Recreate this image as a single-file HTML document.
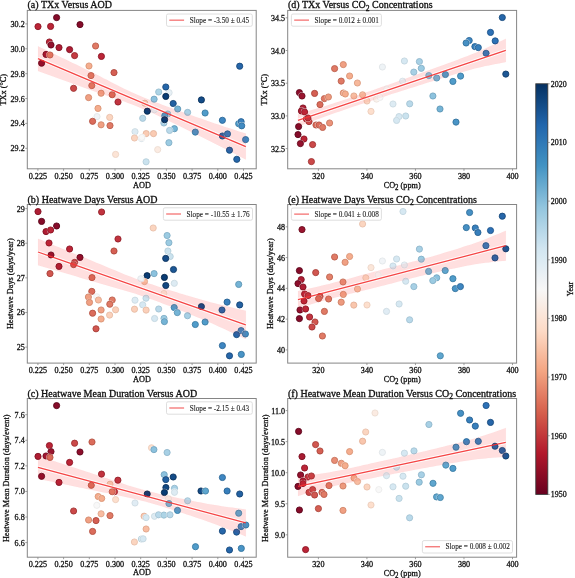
<!DOCTYPE html><html><head><meta charset="utf-8"><style>html,body{margin:0;padding:0;background:#fff;}svg{display:block;} text{filter:grayscale(1);}</style></head><body><svg width="575" height="578" viewBox="0 0 575 578" font-family="Liberation Serif, serif">
<rect width="575" height="578" fill="#fff"/>
<polygon points="38.0,46.2 41.5,47.9 44.9,49.5 48.4,51.2 51.9,52.9 55.3,54.6 58.8,56.2 62.2,57.9 65.7,59.6 69.2,61.3 72.6,63.0 76.1,64.6 79.6,66.3 83.0,68.0 86.5,69.7 90.0,71.4 93.4,73.1 96.9,74.8 100.3,76.6 103.8,78.4 107.3,80.1 110.7,81.9 114.2,83.7 117.7,85.5 121.1,87.2 124.6,88.9 128.0,90.6 131.5,92.2 135.0,93.8 138.4,95.3 141.9,96.8 145.4,98.2 148.8,99.6 152.3,101.0 155.8,102.3 159.2,103.6 162.7,104.9 166.1,106.2 169.6,107.4 173.1,108.7 176.5,109.9 180.0,111.2 183.5,112.4 186.9,113.7 190.4,114.9 193.8,116.2 197.3,117.4 200.8,118.6 204.2,119.8 207.7,121.0 211.2,122.2 214.6,123.4 218.1,124.6 221.6,125.7 225.0,126.9 228.5,128.0 231.9,129.1 235.4,130.3 238.9,131.4 242.3,132.5 245.8,133.6 245.8,159.6 242.3,157.8 238.9,155.9 235.4,154.1 231.9,152.3 228.5,150.5 225.0,148.7 221.6,146.9 218.1,145.2 214.6,143.4 211.2,141.7 207.7,139.9 204.2,138.2 200.8,136.5 197.3,134.7 193.8,133.0 190.4,131.4 186.9,129.7 183.5,128.0 180.0,126.3 176.5,124.6 173.1,122.9 169.6,121.2 166.1,119.5 162.7,117.9 159.2,116.2 155.8,114.6 152.3,113.0 148.8,111.5 145.4,109.9 141.9,108.4 138.4,106.9 135.0,105.5 131.5,104.2 128.0,102.9 124.6,101.6 121.1,100.4 117.7,99.2 114.2,98.0 110.7,96.9 107.3,95.7 103.8,94.6 100.3,93.4 96.9,92.2 93.4,91.0 90.0,89.8 86.5,88.6 83.0,87.3 79.6,86.1 76.1,84.8 72.6,83.6 69.2,82.3 65.7,81.1 62.2,79.8 58.8,78.6 55.3,77.3 51.9,76.0 48.4,74.8 44.9,73.5 41.5,72.3 38.0,71.0" fill="#ff2020" fill-opacity="0.075"/>
<circle cx="56.6" cy="17.6" r="3.70" fill="#fff" fill-opacity="0.85"/>
<circle cx="56.6" cy="17.6" r="3.10" fill="#860c2a" stroke="#570318" stroke-width="0.85"/>
<circle cx="38" cy="26.6" r="3.70" fill="#fff" fill-opacity="0.85"/>
<circle cx="38" cy="26.6" r="3.10" fill="#bb2537" stroke="#891221" stroke-width="0.85"/>
<circle cx="50.6" cy="26.4" r="3.70" fill="#fff" fill-opacity="0.85"/>
<circle cx="50.6" cy="26.4" r="3.10" fill="#bb2537" stroke="#891221" stroke-width="0.85"/>
<circle cx="80" cy="24.6" r="3.70" fill="#fff" fill-opacity="0.85"/>
<circle cx="80" cy="24.6" r="3.10" fill="#860c2a" stroke="#570318" stroke-width="0.85"/>
<circle cx="49.4" cy="42" r="3.70" fill="#fff" fill-opacity="0.85"/>
<circle cx="49.4" cy="42" r="3.10" fill="#bb2537" stroke="#891221" stroke-width="0.85"/>
<circle cx="51" cy="45" r="3.70" fill="#fff" fill-opacity="0.85"/>
<circle cx="51" cy="45" r="3.10" fill="#94122e" stroke="#63071b" stroke-width="0.85"/>
<circle cx="59" cy="47.6" r="3.70" fill="#fff" fill-opacity="0.85"/>
<circle cx="59" cy="47.6" r="3.10" fill="#ae1e34" stroke="#7c0e1f" stroke-width="0.85"/>
<circle cx="69.6" cy="49.6" r="3.70" fill="#fff" fill-opacity="0.85"/>
<circle cx="69.6" cy="49.6" r="3.10" fill="#ae1e34" stroke="#7c0e1f" stroke-width="0.85"/>
<circle cx="74.6" cy="55.6" r="3.70" fill="#fff" fill-opacity="0.85"/>
<circle cx="74.6" cy="55.6" r="3.10" fill="#c53b42" stroke="#952429" stroke-width="0.85"/>
<circle cx="95.6" cy="46" r="3.70" fill="#fff" fill-opacity="0.85"/>
<circle cx="95.6" cy="46" r="3.10" fill="#e07a65" stroke="#b95c4a" stroke-width="0.85"/>
<circle cx="101.4" cy="56.4" r="3.70" fill="#fff" fill-opacity="0.85"/>
<circle cx="101.4" cy="56.4" r="3.10" fill="#bb2537" stroke="#891221" stroke-width="0.85"/>
<circle cx="46" cy="54.4" r="3.70" fill="#fff" fill-opacity="0.85"/>
<circle cx="46" cy="54.4" r="3.10" fill="#a11830" stroke="#700a1c" stroke-width="0.85"/>
<circle cx="50" cy="55" r="3.70" fill="#fff" fill-opacity="0.85"/>
<circle cx="50" cy="55" r="3.10" fill="#e07a65" stroke="#b95c4a" stroke-width="0.85"/>
<circle cx="41.6" cy="63.2" r="3.70" fill="#fff" fill-opacity="0.85"/>
<circle cx="41.6" cy="63.2" r="3.10" fill="#8d0e2c" stroke="#5e051a" stroke-width="0.85"/>
<circle cx="89" cy="66" r="3.70" fill="#fff" fill-opacity="0.85"/>
<circle cx="89" cy="66" r="3.10" fill="#f5ad8e" stroke="#d89273" stroke-width="0.85"/>
<circle cx="91" cy="75.6" r="3.70" fill="#fff" fill-opacity="0.85"/>
<circle cx="91" cy="75.6" r="3.10" fill="#e07a65" stroke="#b95c4a" stroke-width="0.85"/>
<circle cx="114" cy="72.6" r="3.70" fill="#fff" fill-opacity="0.85"/>
<circle cx="114" cy="72.6" r="3.10" fill="#d55f53" stroke="#a94339" stroke-width="0.85"/>
<circle cx="73.6" cy="88.3" r="3.70" fill="#fff" fill-opacity="0.85"/>
<circle cx="73.6" cy="88.3" r="3.10" fill="#cb4949" stroke="#9d3030" stroke-width="0.85"/>
<circle cx="91.8" cy="85.6" r="3.70" fill="#fff" fill-opacity="0.85"/>
<circle cx="91.8" cy="85.6" r="3.10" fill="#e07a65" stroke="#b95c4a" stroke-width="0.85"/>
<circle cx="88.6" cy="97.6" r="3.70" fill="#fff" fill-opacity="0.85"/>
<circle cx="88.6" cy="97.6" r="3.10" fill="#f0a083" stroke="#d08468" stroke-width="0.85"/>
<circle cx="101.1" cy="93.2" r="3.70" fill="#fff" fill-opacity="0.85"/>
<circle cx="101.1" cy="93.2" r="3.10" fill="#f0a083" stroke="#d08468" stroke-width="0.85"/>
<circle cx="112.2" cy="94.7" r="3.70" fill="#fff" fill-opacity="0.85"/>
<circle cx="112.2" cy="94.7" r="3.10" fill="#db6c5b" stroke="#b24f40" stroke-width="0.85"/>
<circle cx="118" cy="102" r="3.70" fill="#fff" fill-opacity="0.85"/>
<circle cx="118" cy="102" r="3.10" fill="#c1333f" stroke="#911d27" stroke-width="0.85"/>
<circle cx="98" cy="108.4" r="3.70" fill="#fff" fill-opacity="0.85"/>
<circle cx="98" cy="108.4" r="3.10" fill="#f5ad8e" stroke="#d89273" stroke-width="0.85"/>
<circle cx="97" cy="116.6" r="3.70" fill="#fff" fill-opacity="0.85"/>
<circle cx="97" cy="116.6" r="3.10" fill="#f1f4f7" stroke="#e2e6e8" stroke-width="0.85"/>
<circle cx="109.7" cy="117.4" r="3.70" fill="#fff" fill-opacity="0.85"/>
<circle cx="109.7" cy="117.4" r="3.10" fill="#fbd5c0" stroke="#e7bfaa" stroke-width="0.85"/>
<circle cx="92.6" cy="121.3" r="3.70" fill="#fff" fill-opacity="0.85"/>
<circle cx="92.6" cy="121.3" r="3.10" fill="#db6c5b" stroke="#b24f40" stroke-width="0.85"/>
<circle cx="101.1" cy="124.8" r="3.70" fill="#fff" fill-opacity="0.85"/>
<circle cx="101.1" cy="124.8" r="3.10" fill="#f0a083" stroke="#d08468" stroke-width="0.85"/>
<circle cx="110" cy="125.6" r="3.70" fill="#fff" fill-opacity="0.85"/>
<circle cx="110" cy="125.6" r="3.10" fill="#e07a65" stroke="#b95c4a" stroke-width="0.85"/>
<circle cx="135" cy="131.7" r="3.70" fill="#fff" fill-opacity="0.85"/>
<circle cx="135" cy="131.7" r="3.10" fill="#ddebf3" stroke="#cad9e0" stroke-width="0.85"/>
<circle cx="134.5" cy="138" r="3.70" fill="#fff" fill-opacity="0.85"/>
<circle cx="134.5" cy="138" r="3.10" fill="#fbd5c0" stroke="#e7bfaa" stroke-width="0.85"/>
<circle cx="141.5" cy="138.5" r="3.70" fill="#fff" fill-opacity="0.85"/>
<circle cx="141.5" cy="138.5" r="3.10" fill="#e7f0f5" stroke="#d6dfe5" stroke-width="0.85"/>
<circle cx="115.6" cy="154.4" r="3.70" fill="#fff" fill-opacity="0.85"/>
<circle cx="115.6" cy="154.4" r="3.10" fill="#fce4d6" stroke="#ebd2c3" stroke-width="0.85"/>
<circle cx="144.8" cy="103.2" r="3.70" fill="#fff" fill-opacity="0.85"/>
<circle cx="144.8" cy="103.2" r="3.10" fill="#facbb3" stroke="#e3b49c" stroke-width="0.85"/>
<circle cx="142.7" cy="118.3" r="3.70" fill="#fff" fill-opacity="0.85"/>
<circle cx="142.7" cy="118.3" r="3.10" fill="#b9d9ea" stroke="#a1c1d1" stroke-width="0.85"/>
<circle cx="146.2" cy="133.6" r="3.70" fill="#fff" fill-opacity="0.85"/>
<circle cx="146.2" cy="133.6" r="3.10" fill="#facbb3" stroke="#e3b49c" stroke-width="0.85"/>
<circle cx="153.5" cy="133.6" r="3.70" fill="#fff" fill-opacity="0.85"/>
<circle cx="153.5" cy="133.6" r="3.10" fill="#facbb3" stroke="#e3b49c" stroke-width="0.85"/>
<circle cx="154.4" cy="109.7" r="3.70" fill="#fff" fill-opacity="0.85"/>
<circle cx="154.4" cy="109.7" r="3.10" fill="#e7f0f5" stroke="#d6dfe5" stroke-width="0.85"/>
<circle cx="154.1" cy="99.2" r="3.70" fill="#fff" fill-opacity="0.85"/>
<circle cx="154.1" cy="99.2" r="3.10" fill="#8cc2de" stroke="#71a3be" stroke-width="0.85"/>
<circle cx="158.7" cy="92" r="3.70" fill="#fff" fill-opacity="0.85"/>
<circle cx="158.7" cy="92" r="3.10" fill="#add4e6" stroke="#94bacc" stroke-width="0.85"/>
<circle cx="169.1" cy="92.7" r="3.70" fill="#fff" fill-opacity="0.85"/>
<circle cx="169.1" cy="92.7" r="3.10" fill="#e7f0f5" stroke="#d6dfe5" stroke-width="0.85"/>
<circle cx="165.8" cy="87" r="3.70" fill="#fff" fill-opacity="0.85"/>
<circle cx="165.8" cy="87" r="3.10" fill="#2666a9" stroke="#15477a" stroke-width="0.85"/>
<circle cx="165.8" cy="96.4" r="3.70" fill="#fff" fill-opacity="0.85"/>
<circle cx="165.8" cy="96.4" r="3.10" fill="#0a3c74" stroke="#032347" stroke-width="0.85"/>
<circle cx="173.2" cy="103.5" r="3.70" fill="#fff" fill-opacity="0.85"/>
<circle cx="173.2" cy="103.5" r="3.10" fill="#2361a2" stroke="#134273" stroke-width="0.85"/>
<circle cx="177.7" cy="109" r="3.70" fill="#fff" fill-opacity="0.85"/>
<circle cx="177.7" cy="109" r="3.10" fill="#75b4d6" stroke="#5b93b2" stroke-width="0.85"/>
<circle cx="187.6" cy="112.4" r="3.70" fill="#fff" fill-opacity="0.85"/>
<circle cx="187.6" cy="112.4" r="3.10" fill="#a7d0e5" stroke="#8eb5ca" stroke-width="0.85"/>
<circle cx="167.8" cy="114" r="3.70" fill="#fff" fill-opacity="0.85"/>
<circle cx="167.8" cy="114" r="3.10" fill="#a7d0e5" stroke="#8eb5ca" stroke-width="0.85"/>
<circle cx="164.8" cy="115.7" r="3.70" fill="#fff" fill-opacity="0.85"/>
<circle cx="164.8" cy="115.7" r="3.10" fill="#509cca" stroke="#377aa2" stroke-width="0.85"/>
<circle cx="163.9" cy="123" r="3.70" fill="#fff" fill-opacity="0.85"/>
<circle cx="163.9" cy="123" r="3.10" fill="#a7d0e5" stroke="#8eb5ca" stroke-width="0.85"/>
<circle cx="164.6" cy="119.7" r="3.70" fill="#fff" fill-opacity="0.85"/>
<circle cx="164.6" cy="119.7" r="3.10" fill="#0a3c74" stroke="#032347" stroke-width="0.85"/>
<circle cx="147.3" cy="111.2" r="3.70" fill="#fff" fill-opacity="0.85"/>
<circle cx="147.3" cy="111.2" r="3.10" fill="#0a3c74" stroke="#032347" stroke-width="0.85"/>
<circle cx="174.4" cy="128.7" r="3.70" fill="#fff" fill-opacity="0.85"/>
<circle cx="174.4" cy="128.7" r="3.10" fill="#75b4d6" stroke="#5b93b2" stroke-width="0.85"/>
<circle cx="169.6" cy="130.4" r="3.70" fill="#fff" fill-opacity="0.85"/>
<circle cx="169.6" cy="130.4" r="3.10" fill="#b9d9ea" stroke="#a1c1d1" stroke-width="0.85"/>
<circle cx="157.7" cy="149.6" r="3.70" fill="#fff" fill-opacity="0.85"/>
<circle cx="157.7" cy="149.6" r="3.10" fill="#fbebe2" stroke="#ebdbd1" stroke-width="0.85"/>
<circle cx="146.1" cy="161.8" r="3.70" fill="#fff" fill-opacity="0.85"/>
<circle cx="146.1" cy="161.8" r="3.10" fill="#cae2ee" stroke="#b4cdd9" stroke-width="0.85"/>
<circle cx="168.9" cy="142.7" r="3.70" fill="#fff" fill-opacity="0.85"/>
<circle cx="168.9" cy="142.7" r="3.10" fill="#9bcbe2" stroke="#81aec5" stroke-width="0.85"/>
<circle cx="141.8" cy="137.4" r="3.70" fill="#fff" fill-opacity="0.85"/>
<circle cx="141.8" cy="137.4" r="3.10" fill="#f8f8f8" stroke="#ebebeb" stroke-width="0.85"/>
<circle cx="195.3" cy="132.1" r="3.70" fill="#fff" fill-opacity="0.85"/>
<circle cx="195.3" cy="132.1" r="3.10" fill="#4994c6" stroke="#31719c" stroke-width="0.85"/>
<circle cx="201.4" cy="99.9" r="3.70" fill="#fff" fill-opacity="0.85"/>
<circle cx="201.4" cy="99.9" r="3.10" fill="#144c88" stroke="#09305a" stroke-width="0.85"/>
<circle cx="205.1" cy="113" r="3.70" fill="#fff" fill-opacity="0.85"/>
<circle cx="205.1" cy="113" r="3.10" fill="#509cca" stroke="#377aa2" stroke-width="0.85"/>
<circle cx="222.4" cy="120.3" r="3.70" fill="#fff" fill-opacity="0.85"/>
<circle cx="222.4" cy="120.3" r="3.10" fill="#3e86c1" stroke="#286495" stroke-width="0.85"/>
<circle cx="222.4" cy="136" r="3.70" fill="#fff" fill-opacity="0.85"/>
<circle cx="222.4" cy="136" r="3.10" fill="#2666a9" stroke="#15477a" stroke-width="0.85"/>
<circle cx="227.5" cy="133.9" r="3.70" fill="#fff" fill-opacity="0.85"/>
<circle cx="227.5" cy="133.9" r="3.10" fill="#347aba" stroke="#1f588d" stroke-width="0.85"/>
<circle cx="238.7" cy="123.7" r="3.70" fill="#fff" fill-opacity="0.85"/>
<circle cx="238.7" cy="123.7" r="3.10" fill="#509cca" stroke="#377aa2" stroke-width="0.85"/>
<circle cx="241.1" cy="121.7" r="3.70" fill="#fff" fill-opacity="0.85"/>
<circle cx="241.1" cy="121.7" r="3.10" fill="#3b82be" stroke="#256092" stroke-width="0.85"/>
<circle cx="241.7" cy="125.8" r="3.70" fill="#fff" fill-opacity="0.85"/>
<circle cx="241.7" cy="125.8" r="3.10" fill="#418bc2" stroke="#2b6997" stroke-width="0.85"/>
<circle cx="245.6" cy="139.6" r="3.70" fill="#fff" fill-opacity="0.85"/>
<circle cx="245.6" cy="139.6" r="3.10" fill="#3e86c1" stroke="#286495" stroke-width="0.85"/>
<circle cx="229.5" cy="150.2" r="3.70" fill="#fff" fill-opacity="0.85"/>
<circle cx="229.5" cy="150.2" r="3.10" fill="#2666a9" stroke="#15477a" stroke-width="0.85"/>
<circle cx="236.8" cy="159.3" r="3.70" fill="#fff" fill-opacity="0.85"/>
<circle cx="236.8" cy="159.3" r="3.10" fill="#2666a9" stroke="#15477a" stroke-width="0.85"/>
<circle cx="239.7" cy="66.2" r="3.70" fill="#fff" fill-opacity="0.85"/>
<circle cx="239.7" cy="66.2" r="3.10" fill="#2666a9" stroke="#15477a" stroke-width="0.85"/>
<polygon points="38.0,46.2 41.5,47.9 44.9,49.5 48.4,51.2 51.9,52.9 55.3,54.6 58.8,56.2 62.2,57.9 65.7,59.6 69.2,61.3 72.6,63.0 76.1,64.6 79.6,66.3 83.0,68.0 86.5,69.7 90.0,71.4 93.4,73.1 96.9,74.8 100.3,76.6 103.8,78.4 107.3,80.1 110.7,81.9 114.2,83.7 117.7,85.5 121.1,87.2 124.6,88.9 128.0,90.6 131.5,92.2 135.0,93.8 138.4,95.3 141.9,96.8 145.4,98.2 148.8,99.6 152.3,101.0 155.8,102.3 159.2,103.6 162.7,104.9 166.1,106.2 169.6,107.4 173.1,108.7 176.5,109.9 180.0,111.2 183.5,112.4 186.9,113.7 190.4,114.9 193.8,116.2 197.3,117.4 200.8,118.6 204.2,119.8 207.7,121.0 211.2,122.2 214.6,123.4 218.1,124.6 221.6,125.7 225.0,126.9 228.5,128.0 231.9,129.1 235.4,130.3 238.9,131.4 242.3,132.5 245.8,133.6 245.8,159.6 242.3,157.8 238.9,155.9 235.4,154.1 231.9,152.3 228.5,150.5 225.0,148.7 221.6,146.9 218.1,145.2 214.6,143.4 211.2,141.7 207.7,139.9 204.2,138.2 200.8,136.5 197.3,134.7 193.8,133.0 190.4,131.4 186.9,129.7 183.5,128.0 180.0,126.3 176.5,124.6 173.1,122.9 169.6,121.2 166.1,119.5 162.7,117.9 159.2,116.2 155.8,114.6 152.3,113.0 148.8,111.5 145.4,109.9 141.9,108.4 138.4,106.9 135.0,105.5 131.5,104.2 128.0,102.9 124.6,101.6 121.1,100.4 117.7,99.2 114.2,98.0 110.7,96.9 107.3,95.7 103.8,94.6 100.3,93.4 96.9,92.2 93.4,91.0 90.0,89.8 86.5,88.6 83.0,87.3 79.6,86.1 76.1,84.8 72.6,83.6 69.2,82.3 65.7,81.1 62.2,79.8 58.8,78.6 55.3,77.3 51.9,76.0 48.4,74.8 44.9,73.5 41.5,72.3 38.0,71.0" fill="#ff2020" fill-opacity="0.07" stroke="#ff2020" stroke-opacity="0.04" stroke-width="0.6"/>
<mask id="m144" maskUnits="userSpaceOnUse" x="0" y="0" width="575" height="578"><rect width="575" height="578" fill="#fff"/><circle cx="56.6" cy="17.6" r="3.55" fill="#000"/><circle cx="38" cy="26.6" r="3.55" fill="#000"/><circle cx="50.6" cy="26.4" r="3.55" fill="#000"/><circle cx="80" cy="24.6" r="3.55" fill="#000"/><circle cx="49.4" cy="42" r="3.55" fill="#000"/><circle cx="51" cy="45" r="3.55" fill="#000"/><circle cx="59" cy="47.6" r="3.55" fill="#000"/><circle cx="69.6" cy="49.6" r="3.55" fill="#000"/><circle cx="74.6" cy="55.6" r="3.55" fill="#000"/><circle cx="95.6" cy="46" r="3.55" fill="#000"/><circle cx="101.4" cy="56.4" r="3.55" fill="#000"/><circle cx="46" cy="54.4" r="3.55" fill="#000"/><circle cx="50" cy="55" r="3.55" fill="#000"/><circle cx="41.6" cy="63.2" r="3.55" fill="#000"/><circle cx="89" cy="66" r="3.55" fill="#000"/><circle cx="91" cy="75.6" r="3.55" fill="#000"/><circle cx="114" cy="72.6" r="3.55" fill="#000"/><circle cx="73.6" cy="88.3" r="3.55" fill="#000"/><circle cx="91.8" cy="85.6" r="3.55" fill="#000"/><circle cx="88.6" cy="97.6" r="3.55" fill="#000"/><circle cx="101.1" cy="93.2" r="3.55" fill="#000"/><circle cx="112.2" cy="94.7" r="3.55" fill="#000"/><circle cx="118" cy="102" r="3.55" fill="#000"/><circle cx="98" cy="108.4" r="3.55" fill="#000"/><circle cx="92.6" cy="121.3" r="3.55" fill="#000"/><circle cx="101.1" cy="124.8" r="3.55" fill="#000"/><circle cx="110" cy="125.6" r="3.55" fill="#000"/><circle cx="154.1" cy="99.2" r="3.55" fill="#000"/><circle cx="158.7" cy="92" r="3.55" fill="#000"/><circle cx="165.8" cy="87" r="3.55" fill="#000"/><circle cx="165.8" cy="96.4" r="3.55" fill="#000"/><circle cx="173.2" cy="103.5" r="3.55" fill="#000"/><circle cx="177.7" cy="109" r="3.55" fill="#000"/><circle cx="187.6" cy="112.4" r="3.55" fill="#000"/><circle cx="167.8" cy="114" r="3.55" fill="#000"/><circle cx="164.8" cy="115.7" r="3.55" fill="#000"/><circle cx="163.9" cy="123" r="3.55" fill="#000"/><circle cx="164.6" cy="119.7" r="3.55" fill="#000"/><circle cx="147.3" cy="111.2" r="3.55" fill="#000"/><circle cx="174.4" cy="128.7" r="3.55" fill="#000"/><circle cx="168.9" cy="142.7" r="3.55" fill="#000"/><circle cx="195.3" cy="132.1" r="3.55" fill="#000"/><circle cx="201.4" cy="99.9" r="3.55" fill="#000"/><circle cx="205.1" cy="113" r="3.55" fill="#000"/><circle cx="222.4" cy="120.3" r="3.55" fill="#000"/><circle cx="222.4" cy="136" r="3.55" fill="#000"/><circle cx="227.5" cy="133.9" r="3.55" fill="#000"/><circle cx="238.7" cy="123.7" r="3.55" fill="#000"/><circle cx="241.1" cy="121.7" r="3.55" fill="#000"/><circle cx="241.7" cy="125.8" r="3.55" fill="#000"/><circle cx="245.6" cy="139.6" r="3.55" fill="#000"/><circle cx="229.5" cy="150.2" r="3.55" fill="#000"/><circle cx="236.8" cy="159.3" r="3.55" fill="#000"/><circle cx="239.7" cy="66.2" r="3.55" fill="#000"/></mask>
<line x1="38" y1="58.6" x2="245.8" y2="146.6" stroke="#fff" stroke-width="3.3" stroke-opacity="0.9" mask="url(#m144)"/>
<line x1="38" y1="58.6" x2="245.8" y2="146.6" stroke="#f43333" stroke-width="1.25" stroke-opacity="0.92"/>
<rect x="27.3" y="10.4" width="228.90" height="158.40" fill="none" stroke="#858585" stroke-width="1"/>
<line x1="37.90" y1="168.8" x2="37.90" y2="170.8" stroke="#858585" stroke-width="0.8"/>
<g transform="translate(37.90,179.00) scale(0.945,1)"><text x="0" y="0" font-size="8.6" text-anchor="middle" fill="#111" stroke="#111" stroke-width="0.3">0.225</text></g>
<line x1="63.60" y1="168.8" x2="63.60" y2="170.8" stroke="#858585" stroke-width="0.8"/>
<g transform="translate(63.60,179.00) scale(0.945,1)"><text x="0" y="0" font-size="8.6" text-anchor="middle" fill="#111" stroke="#111" stroke-width="0.3">0.250</text></g>
<line x1="89.30" y1="168.8" x2="89.30" y2="170.8" stroke="#858585" stroke-width="0.8"/>
<g transform="translate(89.30,179.00) scale(0.945,1)"><text x="0" y="0" font-size="8.6" text-anchor="middle" fill="#111" stroke="#111" stroke-width="0.3">0.275</text></g>
<line x1="115.00" y1="168.8" x2="115.00" y2="170.8" stroke="#858585" stroke-width="0.8"/>
<g transform="translate(115.00,179.00) scale(0.945,1)"><text x="0" y="0" font-size="8.6" text-anchor="middle" fill="#111" stroke="#111" stroke-width="0.3">0.300</text></g>
<line x1="140.70" y1="168.8" x2="140.70" y2="170.8" stroke="#858585" stroke-width="0.8"/>
<g transform="translate(140.70,179.00) scale(0.945,1)"><text x="0" y="0" font-size="8.6" text-anchor="middle" fill="#111" stroke="#111" stroke-width="0.3">0.325</text></g>
<line x1="166.40" y1="168.8" x2="166.40" y2="170.8" stroke="#858585" stroke-width="0.8"/>
<g transform="translate(166.40,179.00) scale(0.945,1)"><text x="0" y="0" font-size="8.6" text-anchor="middle" fill="#111" stroke="#111" stroke-width="0.3">0.350</text></g>
<line x1="192.10" y1="168.8" x2="192.10" y2="170.8" stroke="#858585" stroke-width="0.8"/>
<g transform="translate(192.10,179.00) scale(0.945,1)"><text x="0" y="0" font-size="8.6" text-anchor="middle" fill="#111" stroke="#111" stroke-width="0.3">0.375</text></g>
<line x1="217.80" y1="168.8" x2="217.80" y2="170.8" stroke="#858585" stroke-width="0.8"/>
<g transform="translate(217.80,179.00) scale(0.945,1)"><text x="0" y="0" font-size="8.6" text-anchor="middle" fill="#111" stroke="#111" stroke-width="0.3">0.400</text></g>
<line x1="243.50" y1="168.8" x2="243.50" y2="170.8" stroke="#858585" stroke-width="0.8"/>
<g transform="translate(243.50,179.00) scale(0.945,1)"><text x="0" y="0" font-size="8.6" text-anchor="middle" fill="#111" stroke="#111" stroke-width="0.3">0.425</text></g>
<line x1="25.3" y1="23.90" x2="27.3" y2="23.90" stroke="#858585" stroke-width="0.8"/>
<g transform="translate(24.70,26.90) scale(0.94,1)"><text x="0" y="0" font-size="8.6" text-anchor="end" fill="#111" stroke="#111" stroke-width="0.3">30.2</text></g>
<line x1="25.3" y1="48.78" x2="27.3" y2="48.78" stroke="#858585" stroke-width="0.8"/>
<g transform="translate(24.70,51.78) scale(0.94,1)"><text x="0" y="0" font-size="8.6" text-anchor="end" fill="#111" stroke="#111" stroke-width="0.3">30.0</text></g>
<line x1="25.3" y1="73.66" x2="27.3" y2="73.66" stroke="#858585" stroke-width="0.8"/>
<g transform="translate(24.70,76.66) scale(0.94,1)"><text x="0" y="0" font-size="8.6" text-anchor="end" fill="#111" stroke="#111" stroke-width="0.3">29.8</text></g>
<line x1="25.3" y1="98.54" x2="27.3" y2="98.54" stroke="#858585" stroke-width="0.8"/>
<g transform="translate(24.70,101.54) scale(0.94,1)"><text x="0" y="0" font-size="8.6" text-anchor="end" fill="#111" stroke="#111" stroke-width="0.3">29.6</text></g>
<line x1="25.3" y1="123.42" x2="27.3" y2="123.42" stroke="#858585" stroke-width="0.8"/>
<g transform="translate(24.70,126.42) scale(0.94,1)"><text x="0" y="0" font-size="8.6" text-anchor="end" fill="#111" stroke="#111" stroke-width="0.3">29.4</text></g>
<line x1="25.3" y1="148.30" x2="27.3" y2="148.30" stroke="#858585" stroke-width="0.8"/>
<g transform="translate(24.70,151.30) scale(0.94,1)"><text x="0" y="0" font-size="8.6" text-anchor="end" fill="#111" stroke="#111" stroke-width="0.3">29.2</text></g>
<g transform="translate(142.00,187.50) scale(0.96,1)"><text x="0" y="0" font-size="8.6" text-anchor="middle" fill="#111" stroke="#111" stroke-width="0.3">AOD</text></g>
<g transform="translate(6.20,89.80) rotate(-90) scale(0.957,1)"><text x="0" y="0" font-size="8.6" text-anchor="middle" fill="#111" stroke="#111" stroke-width="0.3">TXx (°C)</text></g>
<g transform="translate(27.50,8.40) scale(1.055,1)"><text x="0" y="0" font-size="9.5" text-anchor="start" fill="#111" stroke="#111" stroke-width="0.3">(a) TXx Versus AOD</text></g>
<rect x="166.5" y="14.0" width="85.8" height="12.3" rx="1.6" fill="#fff" fill-opacity="0.85" stroke="#d6d6d6" stroke-width="0.8"/>
<line x1="169.3" y1="20.15" x2="184.1" y2="20.15" stroke="#f03535" stroke-width="1.0" stroke-opacity="0.9"/>
<g transform="translate(189.70,22.75) scale(0.952,1)"><text x="0" y="0" font-size="7.6" text-anchor="start" fill="#222" stroke="#222" stroke-width="0.1">Slope = -3.50 ± 0.45</text></g>
<polygon points="38.0,238.7 41.5,240.1 44.9,241.6 48.4,243.0 51.9,244.4 55.3,245.9 58.8,247.3 62.2,248.7 65.7,250.1 69.2,251.5 72.6,253.0 76.1,254.4 79.6,255.8 83.0,257.2 86.5,258.6 90.0,260.0 93.4,261.4 96.9,262.9 100.3,264.3 103.8,265.8 107.3,267.2 110.7,268.7 114.2,270.1 117.7,271.5 121.1,273.0 124.6,274.4 128.0,275.8 131.5,277.1 135.0,278.5 138.4,279.8 141.9,281.0 145.4,282.3 148.8,283.5 152.3,284.6 155.8,285.8 159.2,286.9 162.7,288.0 166.1,289.1 169.6,290.2 173.1,291.3 176.5,292.3 180.0,293.4 183.5,294.4 186.9,295.5 190.4,296.5 193.8,297.5 197.3,298.6 200.8,299.6 204.2,300.5 207.7,301.5 211.2,302.4 214.6,303.3 218.1,304.2 221.6,305.1 225.0,305.9 228.5,306.7 231.9,307.6 235.4,308.4 238.9,309.2 242.3,309.9 245.8,310.7 245.8,339.1 242.3,337.4 238.9,335.8 235.4,334.1 231.9,332.5 228.5,330.9 225.0,329.3 221.6,327.7 218.1,326.2 214.6,324.6 211.2,323.1 207.7,321.6 204.2,320.1 200.8,318.6 197.3,317.2 193.8,315.8 190.4,314.4 186.9,313.0 183.5,311.6 180.0,310.2 176.5,308.9 173.1,307.5 169.6,306.1 166.1,304.8 162.7,303.4 159.2,302.1 155.8,300.8 152.3,299.6 148.8,298.3 145.4,297.1 141.9,295.9 138.4,294.7 135.0,293.6 131.5,292.5 128.0,291.4 124.6,290.4 121.1,289.4 117.7,288.4 114.2,287.4 110.7,286.4 107.3,285.4 103.8,284.4 100.3,283.4 96.9,282.4 93.4,281.4 90.0,280.4 86.5,279.4 83.0,278.4 79.6,277.4 76.1,276.3 72.6,275.3 69.2,274.3 65.7,273.3 62.2,272.3 58.8,271.3 55.3,270.3 51.9,269.3 48.4,268.3 44.9,267.3 41.5,266.3 38.0,265.3" fill="#ff2020" fill-opacity="0.075"/>
<circle cx="38" cy="211.6" r="3.70" fill="#fff" fill-opacity="0.85"/>
<circle cx="38" cy="211.6" r="3.10" fill="#ae1e34" stroke="#7c0e1f" stroke-width="0.85"/>
<circle cx="41.6" cy="221.4" r="3.70" fill="#fff" fill-opacity="0.85"/>
<circle cx="41.6" cy="221.4" r="3.10" fill="#860c2a" stroke="#570318" stroke-width="0.85"/>
<circle cx="56.6" cy="226" r="3.70" fill="#fff" fill-opacity="0.85"/>
<circle cx="56.6" cy="226" r="3.10" fill="#860c2a" stroke="#570318" stroke-width="0.85"/>
<circle cx="46" cy="231.6" r="3.70" fill="#fff" fill-opacity="0.85"/>
<circle cx="46" cy="231.6" r="3.10" fill="#ae1e34" stroke="#7c0e1f" stroke-width="0.85"/>
<circle cx="50.6" cy="230" r="3.70" fill="#fff" fill-opacity="0.85"/>
<circle cx="50.6" cy="230" r="3.10" fill="#bb2537" stroke="#891221" stroke-width="0.85"/>
<circle cx="49" cy="243" r="3.70" fill="#fff" fill-opacity="0.85"/>
<circle cx="49" cy="243" r="3.10" fill="#bb2537" stroke="#891221" stroke-width="0.85"/>
<circle cx="51" cy="255" r="3.70" fill="#fff" fill-opacity="0.85"/>
<circle cx="51" cy="255" r="3.10" fill="#94122e" stroke="#63071b" stroke-width="0.85"/>
<circle cx="59" cy="266.4" r="3.70" fill="#fff" fill-opacity="0.85"/>
<circle cx="59" cy="266.4" r="3.10" fill="#ae1e34" stroke="#7c0e1f" stroke-width="0.85"/>
<circle cx="50" cy="273.6" r="3.70" fill="#fff" fill-opacity="0.85"/>
<circle cx="50" cy="273.6" r="3.10" fill="#d15750" stroke="#a53c36" stroke-width="0.85"/>
<circle cx="69.6" cy="249" r="3.70" fill="#fff" fill-opacity="0.85"/>
<circle cx="69.6" cy="249" r="3.10" fill="#bb2537" stroke="#891221" stroke-width="0.85"/>
<circle cx="80" cy="257.4" r="3.70" fill="#fff" fill-opacity="0.85"/>
<circle cx="80" cy="257.4" r="3.10" fill="#8d0e2c" stroke="#5e051a" stroke-width="0.85"/>
<circle cx="74.6" cy="262.4" r="3.70" fill="#fff" fill-opacity="0.85"/>
<circle cx="74.6" cy="262.4" r="3.10" fill="#cb4949" stroke="#9d3030" stroke-width="0.85"/>
<circle cx="73.6" cy="264.6" r="3.70" fill="#fff" fill-opacity="0.85"/>
<circle cx="73.6" cy="264.6" r="3.10" fill="#d15750" stroke="#a53c36" stroke-width="0.85"/>
<circle cx="101.6" cy="212" r="3.70" fill="#fff" fill-opacity="0.85"/>
<circle cx="101.6" cy="212" r="3.10" fill="#c1333f" stroke="#911d27" stroke-width="0.85"/>
<circle cx="118" cy="239" r="3.70" fill="#fff" fill-opacity="0.85"/>
<circle cx="118" cy="239" r="3.10" fill="#c1333f" stroke="#911d27" stroke-width="0.85"/>
<circle cx="114" cy="251" r="3.70" fill="#fff" fill-opacity="0.85"/>
<circle cx="114" cy="251" r="3.10" fill="#d55f53" stroke="#a94339" stroke-width="0.85"/>
<circle cx="92" cy="277.6" r="3.70" fill="#fff" fill-opacity="0.85"/>
<circle cx="92" cy="277.6" r="3.10" fill="#db6c5b" stroke="#b24f40" stroke-width="0.85"/>
<circle cx="91.8" cy="291.4" r="3.70" fill="#fff" fill-opacity="0.85"/>
<circle cx="91.8" cy="291.4" r="3.10" fill="#db6c5b" stroke="#b24f40" stroke-width="0.85"/>
<circle cx="88.4" cy="297" r="3.70" fill="#fff" fill-opacity="0.85"/>
<circle cx="88.4" cy="297" r="3.10" fill="#f0a083" stroke="#d08468" stroke-width="0.85"/>
<circle cx="96.8" cy="296.8" r="3.70" fill="#fff" fill-opacity="0.85"/>
<circle cx="96.8" cy="296.8" r="3.10" fill="#f8f8f8" stroke="#ebebeb" stroke-width="0.85"/>
<circle cx="98.4" cy="300" r="3.70" fill="#fff" fill-opacity="0.85"/>
<circle cx="98.4" cy="300" r="3.10" fill="#f8bca1" stroke="#dea388" stroke-width="0.85"/>
<circle cx="89.5" cy="302.4" r="3.70" fill="#fff" fill-opacity="0.85"/>
<circle cx="89.5" cy="302.4" r="3.10" fill="#f0a083" stroke="#d08468" stroke-width="0.85"/>
<circle cx="112.2" cy="300" r="3.70" fill="#fff" fill-opacity="0.85"/>
<circle cx="112.2" cy="300" r="3.10" fill="#e07a65" stroke="#b95c4a" stroke-width="0.85"/>
<circle cx="109.8" cy="304.2" r="3.70" fill="#fff" fill-opacity="0.85"/>
<circle cx="109.8" cy="304.2" r="3.10" fill="#e07a65" stroke="#b95c4a" stroke-width="0.85"/>
<circle cx="92.6" cy="313.2" r="3.70" fill="#fff" fill-opacity="0.85"/>
<circle cx="92.6" cy="313.2" r="3.10" fill="#db6c5b" stroke="#b24f40" stroke-width="0.85"/>
<circle cx="101.1" cy="310" r="3.70" fill="#fff" fill-opacity="0.85"/>
<circle cx="101.1" cy="310" r="3.10" fill="#f0a083" stroke="#d08468" stroke-width="0.85"/>
<circle cx="115.6" cy="309.8" r="3.70" fill="#fff" fill-opacity="0.85"/>
<circle cx="115.6" cy="309.8" r="3.10" fill="#fbd0ba" stroke="#e5baa3" stroke-width="0.85"/>
<circle cx="109.6" cy="315.1" r="3.70" fill="#fff" fill-opacity="0.85"/>
<circle cx="109.6" cy="315.1" r="3.10" fill="#fbd0ba" stroke="#e5baa3" stroke-width="0.85"/>
<circle cx="101.1" cy="319" r="3.70" fill="#fff" fill-opacity="0.85"/>
<circle cx="101.1" cy="319" r="3.10" fill="#f5ad8e" stroke="#d89273" stroke-width="0.85"/>
<circle cx="96" cy="328.8" r="3.70" fill="#fff" fill-opacity="0.85"/>
<circle cx="96" cy="328.8" r="3.10" fill="#d15750" stroke="#a53c36" stroke-width="0.85"/>
<circle cx="135" cy="300.2" r="3.70" fill="#fff" fill-opacity="0.85"/>
<circle cx="135" cy="300.2" r="3.10" fill="#ddebf3" stroke="#cad9e0" stroke-width="0.85"/>
<circle cx="134.5" cy="309.2" r="3.70" fill="#fff" fill-opacity="0.85"/>
<circle cx="134.5" cy="309.2" r="3.10" fill="#fbd0ba" stroke="#e5baa3" stroke-width="0.85"/>
<circle cx="153.2" cy="228" r="3.70" fill="#fff" fill-opacity="0.85"/>
<circle cx="153.2" cy="228" r="3.10" fill="#fbd5c0" stroke="#e7bfaa" stroke-width="0.85"/>
<circle cx="167.1" cy="235.5" r="3.70" fill="#fff" fill-opacity="0.85"/>
<circle cx="167.1" cy="235.5" r="3.10" fill="#9bcbe2" stroke="#81aec5" stroke-width="0.85"/>
<circle cx="168.9" cy="242.7" r="3.70" fill="#fff" fill-opacity="0.85"/>
<circle cx="168.9" cy="242.7" r="3.10" fill="#9bcbe2" stroke="#81aec5" stroke-width="0.85"/>
<circle cx="167.9" cy="251" r="3.70" fill="#fff" fill-opacity="0.85"/>
<circle cx="167.9" cy="251" r="3.10" fill="#cae2ee" stroke="#b4cdd9" stroke-width="0.85"/>
<circle cx="170.2" cy="256.5" r="3.70" fill="#fff" fill-opacity="0.85"/>
<circle cx="170.2" cy="256.5" r="3.10" fill="#cae2ee" stroke="#b4cdd9" stroke-width="0.85"/>
<circle cx="165.7" cy="258.4" r="3.70" fill="#fff" fill-opacity="0.85"/>
<circle cx="165.7" cy="258.4" r="3.10" fill="#144c88" stroke="#09305a" stroke-width="0.85"/>
<circle cx="173.5" cy="269.5" r="3.70" fill="#fff" fill-opacity="0.85"/>
<circle cx="173.5" cy="269.5" r="3.10" fill="#1c5795" stroke="#0e3966" stroke-width="0.85"/>
<circle cx="154.1" cy="273.6" r="3.70" fill="#fff" fill-opacity="0.85"/>
<circle cx="154.1" cy="273.6" r="3.10" fill="#8cc2de" stroke="#71a3be" stroke-width="0.85"/>
<circle cx="147.1" cy="275.7" r="3.70" fill="#fff" fill-opacity="0.85"/>
<circle cx="147.1" cy="275.7" r="3.10" fill="#0a3c74" stroke="#032347" stroke-width="0.85"/>
<circle cx="164.4" cy="277.4" r="3.70" fill="#fff" fill-opacity="0.85"/>
<circle cx="164.4" cy="277.4" r="3.10" fill="#0a3c74" stroke="#032347" stroke-width="0.85"/>
<circle cx="165.8" cy="285.5" r="3.70" fill="#fff" fill-opacity="0.85"/>
<circle cx="165.8" cy="285.5" r="3.10" fill="#124781" stroke="#082c54" stroke-width="0.85"/>
<circle cx="174.3" cy="283.3" r="3.70" fill="#fff" fill-opacity="0.85"/>
<circle cx="174.3" cy="283.3" r="3.10" fill="#ddebf3" stroke="#cad9e0" stroke-width="0.85"/>
<circle cx="144.5" cy="281.6" r="3.70" fill="#fff" fill-opacity="0.85"/>
<circle cx="144.5" cy="281.6" r="3.10" fill="#f8bca1" stroke="#dea388" stroke-width="0.85"/>
<circle cx="140.8" cy="278.8" r="3.70" fill="#fff" fill-opacity="0.85"/>
<circle cx="140.8" cy="278.8" r="3.10" fill="#eef3f6" stroke="#dfe4e7" stroke-width="0.85"/>
<circle cx="238.7" cy="284.4" r="3.70" fill="#fff" fill-opacity="0.85"/>
<circle cx="238.7" cy="284.4" r="3.10" fill="#75b4d6" stroke="#5b93b2" stroke-width="0.85"/>
<circle cx="146" cy="298.2" r="3.70" fill="#fff" fill-opacity="0.85"/>
<circle cx="146" cy="298.2" r="3.10" fill="#cae2ee" stroke="#b4cdd9" stroke-width="0.85"/>
<circle cx="142.7" cy="304.8" r="3.70" fill="#fff" fill-opacity="0.85"/>
<circle cx="142.7" cy="304.8" r="3.10" fill="#d6e8f2" stroke="#c2d4de" stroke-width="0.85"/>
<circle cx="146.1" cy="310.1" r="3.70" fill="#fff" fill-opacity="0.85"/>
<circle cx="146.1" cy="310.1" r="3.10" fill="#fbd0ba" stroke="#e5baa3" stroke-width="0.85"/>
<circle cx="158.7" cy="309" r="3.70" fill="#fff" fill-opacity="0.85"/>
<circle cx="158.7" cy="309" r="3.10" fill="#b9d9ea" stroke="#a1c1d1" stroke-width="0.85"/>
<circle cx="154.6" cy="318.5" r="3.70" fill="#fff" fill-opacity="0.85"/>
<circle cx="154.6" cy="318.5" r="3.10" fill="#d6e8f2" stroke="#c2d4de" stroke-width="0.85"/>
<circle cx="164" cy="318.4" r="3.70" fill="#fff" fill-opacity="0.85"/>
<circle cx="164" cy="318.4" r="3.10" fill="#9bcbe2" stroke="#81aec5" stroke-width="0.85"/>
<circle cx="164.4" cy="321.6" r="3.70" fill="#fff" fill-opacity="0.85"/>
<circle cx="164.4" cy="321.6" r="3.10" fill="#75b4d6" stroke="#5b93b2" stroke-width="0.85"/>
<circle cx="174.2" cy="307.5" r="3.70" fill="#fff" fill-opacity="0.85"/>
<circle cx="174.2" cy="307.5" r="3.10" fill="#509cca" stroke="#377aa2" stroke-width="0.85"/>
<circle cx="177.3" cy="312.6" r="3.70" fill="#fff" fill-opacity="0.85"/>
<circle cx="177.3" cy="312.6" r="3.10" fill="#75b4d6" stroke="#5b93b2" stroke-width="0.85"/>
<circle cx="187.5" cy="315.7" r="3.70" fill="#fff" fill-opacity="0.85"/>
<circle cx="187.5" cy="315.7" r="3.10" fill="#a7d0e5" stroke="#8eb5ca" stroke-width="0.85"/>
<circle cx="195.3" cy="324.5" r="3.70" fill="#fff" fill-opacity="0.85"/>
<circle cx="195.3" cy="324.5" r="3.10" fill="#509cca" stroke="#377aa2" stroke-width="0.85"/>
<circle cx="205.1" cy="322" r="3.70" fill="#fff" fill-opacity="0.85"/>
<circle cx="205.1" cy="322" r="3.10" fill="#509cca" stroke="#377aa2" stroke-width="0.85"/>
<circle cx="201.4" cy="306.6" r="3.70" fill="#fff" fill-opacity="0.85"/>
<circle cx="201.4" cy="306.6" r="3.10" fill="#144c88" stroke="#09305a" stroke-width="0.85"/>
<circle cx="227.1" cy="302.1" r="3.70" fill="#fff" fill-opacity="0.85"/>
<circle cx="227.1" cy="302.1" r="3.10" fill="#377fbc" stroke="#225d8f" stroke-width="0.85"/>
<circle cx="239.7" cy="304.9" r="3.70" fill="#fff" fill-opacity="0.85"/>
<circle cx="239.7" cy="304.9" r="3.10" fill="#2361a2" stroke="#134273" stroke-width="0.85"/>
<circle cx="222" cy="310" r="3.70" fill="#fff" fill-opacity="0.85"/>
<circle cx="222" cy="310" r="3.10" fill="#2666a9" stroke="#15477a" stroke-width="0.85"/>
<circle cx="241.1" cy="330.6" r="3.70" fill="#fff" fill-opacity="0.85"/>
<circle cx="241.1" cy="330.6" r="3.10" fill="#3e86c1" stroke="#286495" stroke-width="0.85"/>
<circle cx="236.6" cy="334.6" r="3.70" fill="#fff" fill-opacity="0.85"/>
<circle cx="236.6" cy="334.6" r="3.10" fill="#2666a9" stroke="#15477a" stroke-width="0.85"/>
<circle cx="245.4" cy="334" r="3.70" fill="#fff" fill-opacity="0.85"/>
<circle cx="245.4" cy="334" r="3.10" fill="#4690c4" stroke="#2e6d99" stroke-width="0.85"/>
<circle cx="222.4" cy="345.6" r="3.70" fill="#fff" fill-opacity="0.85"/>
<circle cx="222.4" cy="345.6" r="3.10" fill="#3e86c1" stroke="#286495" stroke-width="0.85"/>
<circle cx="229.5" cy="355.8" r="3.70" fill="#fff" fill-opacity="0.85"/>
<circle cx="229.5" cy="355.8" r="3.10" fill="#2666a9" stroke="#15477a" stroke-width="0.85"/>
<circle cx="241.3" cy="354.4" r="3.70" fill="#fff" fill-opacity="0.85"/>
<circle cx="241.3" cy="354.4" r="3.10" fill="#4994c6" stroke="#31719c" stroke-width="0.85"/>
<circle cx="163.9" cy="293.5" r="3.70" fill="#fff" fill-opacity="0.85"/>
<circle cx="163.9" cy="293.5" r="3.10" fill="#fce4d6" stroke="#ebd2c3" stroke-width="0.85"/>
<polygon points="38.0,238.7 41.5,240.1 44.9,241.6 48.4,243.0 51.9,244.4 55.3,245.9 58.8,247.3 62.2,248.7 65.7,250.1 69.2,251.5 72.6,253.0 76.1,254.4 79.6,255.8 83.0,257.2 86.5,258.6 90.0,260.0 93.4,261.4 96.9,262.9 100.3,264.3 103.8,265.8 107.3,267.2 110.7,268.7 114.2,270.1 117.7,271.5 121.1,273.0 124.6,274.4 128.0,275.8 131.5,277.1 135.0,278.5 138.4,279.8 141.9,281.0 145.4,282.3 148.8,283.5 152.3,284.6 155.8,285.8 159.2,286.9 162.7,288.0 166.1,289.1 169.6,290.2 173.1,291.3 176.5,292.3 180.0,293.4 183.5,294.4 186.9,295.5 190.4,296.5 193.8,297.5 197.3,298.6 200.8,299.6 204.2,300.5 207.7,301.5 211.2,302.4 214.6,303.3 218.1,304.2 221.6,305.1 225.0,305.9 228.5,306.7 231.9,307.6 235.4,308.4 238.9,309.2 242.3,309.9 245.8,310.7 245.8,339.1 242.3,337.4 238.9,335.8 235.4,334.1 231.9,332.5 228.5,330.9 225.0,329.3 221.6,327.7 218.1,326.2 214.6,324.6 211.2,323.1 207.7,321.6 204.2,320.1 200.8,318.6 197.3,317.2 193.8,315.8 190.4,314.4 186.9,313.0 183.5,311.6 180.0,310.2 176.5,308.9 173.1,307.5 169.6,306.1 166.1,304.8 162.7,303.4 159.2,302.1 155.8,300.8 152.3,299.6 148.8,298.3 145.4,297.1 141.9,295.9 138.4,294.7 135.0,293.6 131.5,292.5 128.0,291.4 124.6,290.4 121.1,289.4 117.7,288.4 114.2,287.4 110.7,286.4 107.3,285.4 103.8,284.4 100.3,283.4 96.9,282.4 93.4,281.4 90.0,280.4 86.5,279.4 83.0,278.4 79.6,277.4 76.1,276.3 72.6,275.3 69.2,274.3 65.7,273.3 62.2,272.3 58.8,271.3 55.3,270.3 51.9,269.3 48.4,268.3 44.9,267.3 41.5,266.3 38.0,265.3" fill="#ff2020" fill-opacity="0.07" stroke="#ff2020" stroke-opacity="0.04" stroke-width="0.6"/>
<mask id="m326" maskUnits="userSpaceOnUse" x="0" y="0" width="575" height="578"><rect width="575" height="578" fill="#fff"/><circle cx="38" cy="211.6" r="3.55" fill="#000"/><circle cx="41.6" cy="221.4" r="3.55" fill="#000"/><circle cx="56.6" cy="226" r="3.55" fill="#000"/><circle cx="46" cy="231.6" r="3.55" fill="#000"/><circle cx="50.6" cy="230" r="3.55" fill="#000"/><circle cx="49" cy="243" r="3.55" fill="#000"/><circle cx="51" cy="255" r="3.55" fill="#000"/><circle cx="59" cy="266.4" r="3.55" fill="#000"/><circle cx="50" cy="273.6" r="3.55" fill="#000"/><circle cx="69.6" cy="249" r="3.55" fill="#000"/><circle cx="80" cy="257.4" r="3.55" fill="#000"/><circle cx="74.6" cy="262.4" r="3.55" fill="#000"/><circle cx="73.6" cy="264.6" r="3.55" fill="#000"/><circle cx="101.6" cy="212" r="3.55" fill="#000"/><circle cx="118" cy="239" r="3.55" fill="#000"/><circle cx="114" cy="251" r="3.55" fill="#000"/><circle cx="92" cy="277.6" r="3.55" fill="#000"/><circle cx="91.8" cy="291.4" r="3.55" fill="#000"/><circle cx="88.4" cy="297" r="3.55" fill="#000"/><circle cx="98.4" cy="300" r="3.55" fill="#000"/><circle cx="89.5" cy="302.4" r="3.55" fill="#000"/><circle cx="112.2" cy="300" r="3.55" fill="#000"/><circle cx="109.8" cy="304.2" r="3.55" fill="#000"/><circle cx="92.6" cy="313.2" r="3.55" fill="#000"/><circle cx="101.1" cy="310" r="3.55" fill="#000"/><circle cx="101.1" cy="319" r="3.55" fill="#000"/><circle cx="96" cy="328.8" r="3.55" fill="#000"/><circle cx="167.1" cy="235.5" r="3.55" fill="#000"/><circle cx="168.9" cy="242.7" r="3.55" fill="#000"/><circle cx="165.7" cy="258.4" r="3.55" fill="#000"/><circle cx="173.5" cy="269.5" r="3.55" fill="#000"/><circle cx="154.1" cy="273.6" r="3.55" fill="#000"/><circle cx="147.1" cy="275.7" r="3.55" fill="#000"/><circle cx="164.4" cy="277.4" r="3.55" fill="#000"/><circle cx="165.8" cy="285.5" r="3.55" fill="#000"/><circle cx="144.5" cy="281.6" r="3.55" fill="#000"/><circle cx="238.7" cy="284.4" r="3.55" fill="#000"/><circle cx="164" cy="318.4" r="3.55" fill="#000"/><circle cx="164.4" cy="321.6" r="3.55" fill="#000"/><circle cx="174.2" cy="307.5" r="3.55" fill="#000"/><circle cx="177.3" cy="312.6" r="3.55" fill="#000"/><circle cx="187.5" cy="315.7" r="3.55" fill="#000"/><circle cx="195.3" cy="324.5" r="3.55" fill="#000"/><circle cx="205.1" cy="322" r="3.55" fill="#000"/><circle cx="201.4" cy="306.6" r="3.55" fill="#000"/><circle cx="227.1" cy="302.1" r="3.55" fill="#000"/><circle cx="239.7" cy="304.9" r="3.55" fill="#000"/><circle cx="222" cy="310" r="3.55" fill="#000"/><circle cx="241.1" cy="330.6" r="3.55" fill="#000"/><circle cx="236.6" cy="334.6" r="3.55" fill="#000"/><circle cx="245.4" cy="334" r="3.55" fill="#000"/><circle cx="222.4" cy="345.6" r="3.55" fill="#000"/><circle cx="229.5" cy="355.8" r="3.55" fill="#000"/><circle cx="241.3" cy="354.4" r="3.55" fill="#000"/></mask>
<line x1="38" y1="252.0" x2="245.8" y2="324.9" stroke="#fff" stroke-width="3.3" stroke-opacity="0.9" mask="url(#m326)"/>
<line x1="38" y1="252.0" x2="245.8" y2="324.9" stroke="#f43333" stroke-width="1.25" stroke-opacity="0.92"/>
<rect x="27.3" y="204.5" width="228.90" height="158.60" fill="none" stroke="#858585" stroke-width="1"/>
<line x1="37.90" y1="363.1" x2="37.90" y2="365.1" stroke="#858585" stroke-width="0.8"/>
<g transform="translate(37.90,373.30) scale(0.945,1)"><text x="0" y="0" font-size="8.6" text-anchor="middle" fill="#111" stroke="#111" stroke-width="0.3">0.225</text></g>
<line x1="63.60" y1="363.1" x2="63.60" y2="365.1" stroke="#858585" stroke-width="0.8"/>
<g transform="translate(63.60,373.30) scale(0.945,1)"><text x="0" y="0" font-size="8.6" text-anchor="middle" fill="#111" stroke="#111" stroke-width="0.3">0.250</text></g>
<line x1="89.30" y1="363.1" x2="89.30" y2="365.1" stroke="#858585" stroke-width="0.8"/>
<g transform="translate(89.30,373.30) scale(0.945,1)"><text x="0" y="0" font-size="8.6" text-anchor="middle" fill="#111" stroke="#111" stroke-width="0.3">0.275</text></g>
<line x1="115.00" y1="363.1" x2="115.00" y2="365.1" stroke="#858585" stroke-width="0.8"/>
<g transform="translate(115.00,373.30) scale(0.945,1)"><text x="0" y="0" font-size="8.6" text-anchor="middle" fill="#111" stroke="#111" stroke-width="0.3">0.300</text></g>
<line x1="140.70" y1="363.1" x2="140.70" y2="365.1" stroke="#858585" stroke-width="0.8"/>
<g transform="translate(140.70,373.30) scale(0.945,1)"><text x="0" y="0" font-size="8.6" text-anchor="middle" fill="#111" stroke="#111" stroke-width="0.3">0.325</text></g>
<line x1="166.40" y1="363.1" x2="166.40" y2="365.1" stroke="#858585" stroke-width="0.8"/>
<g transform="translate(166.40,373.30) scale(0.945,1)"><text x="0" y="0" font-size="8.6" text-anchor="middle" fill="#111" stroke="#111" stroke-width="0.3">0.350</text></g>
<line x1="192.10" y1="363.1" x2="192.10" y2="365.1" stroke="#858585" stroke-width="0.8"/>
<g transform="translate(192.10,373.30) scale(0.945,1)"><text x="0" y="0" font-size="8.6" text-anchor="middle" fill="#111" stroke="#111" stroke-width="0.3">0.375</text></g>
<line x1="217.80" y1="363.1" x2="217.80" y2="365.1" stroke="#858585" stroke-width="0.8"/>
<g transform="translate(217.80,373.30) scale(0.945,1)"><text x="0" y="0" font-size="8.6" text-anchor="middle" fill="#111" stroke="#111" stroke-width="0.3">0.400</text></g>
<line x1="243.50" y1="363.1" x2="243.50" y2="365.1" stroke="#858585" stroke-width="0.8"/>
<g transform="translate(243.50,373.30) scale(0.945,1)"><text x="0" y="0" font-size="8.6" text-anchor="middle" fill="#111" stroke="#111" stroke-width="0.3">0.425</text></g>
<line x1="25.3" y1="208.60" x2="27.3" y2="208.60" stroke="#858585" stroke-width="0.8"/>
<g transform="translate(24.70,211.60) scale(0.94,1)"><text x="0" y="0" font-size="8.6" text-anchor="end" fill="#111" stroke="#111" stroke-width="0.3">29</text></g>
<line x1="25.3" y1="243.23" x2="27.3" y2="243.23" stroke="#858585" stroke-width="0.8"/>
<g transform="translate(24.70,246.23) scale(0.94,1)"><text x="0" y="0" font-size="8.6" text-anchor="end" fill="#111" stroke="#111" stroke-width="0.3">28</text></g>
<line x1="25.3" y1="277.86" x2="27.3" y2="277.86" stroke="#858585" stroke-width="0.8"/>
<g transform="translate(24.70,280.86) scale(0.94,1)"><text x="0" y="0" font-size="8.6" text-anchor="end" fill="#111" stroke="#111" stroke-width="0.3">27</text></g>
<line x1="25.3" y1="312.49" x2="27.3" y2="312.49" stroke="#858585" stroke-width="0.8"/>
<g transform="translate(24.70,315.49) scale(0.94,1)"><text x="0" y="0" font-size="8.6" text-anchor="end" fill="#111" stroke="#111" stroke-width="0.3">26</text></g>
<line x1="25.3" y1="347.12" x2="27.3" y2="347.12" stroke="#858585" stroke-width="0.8"/>
<g transform="translate(24.70,350.12) scale(0.94,1)"><text x="0" y="0" font-size="8.6" text-anchor="end" fill="#111" stroke="#111" stroke-width="0.3">25</text></g>
<g transform="translate(142.00,381.80) scale(0.96,1)"><text x="0" y="0" font-size="8.6" text-anchor="middle" fill="#111" stroke="#111" stroke-width="0.3">AOD</text></g>
<g transform="translate(12.90,283.70) rotate(-90) scale(0.957,1)"><text x="0" y="0" font-size="8.6" text-anchor="middle" fill="#111" stroke="#111" stroke-width="0.3">Heatwave Days (days/year)</text></g>
<g transform="translate(27.50,202.50) scale(1.055,1)"><text x="0" y="0" font-size="9.5" text-anchor="start" fill="#111" stroke="#111" stroke-width="0.3">(b) Heatwave Days Versus AOD</text></g>
<rect x="163.4" y="207.8" width="89.1" height="12.4" rx="1.6" fill="#fff" fill-opacity="0.85" stroke="#d6d6d6" stroke-width="0.8"/>
<line x1="166.20000000000002" y1="214.00" x2="181.0" y2="214.00" stroke="#f03535" stroke-width="1.0" stroke-opacity="0.9"/>
<g transform="translate(186.60,216.60) scale(0.952,1)"><text x="0" y="0" font-size="7.6" text-anchor="start" fill="#222" stroke="#222" stroke-width="0.1">Slope = -10.55 ± 1.76</text></g>
<polygon points="38.0,455.8 41.5,456.9 44.9,458.1 48.4,459.2 51.9,460.4 55.3,461.5 58.8,462.7 62.2,463.8 65.7,464.9 69.2,466.1 72.6,467.2 76.1,468.3 79.6,469.4 83.0,470.6 86.5,471.7 90.0,472.8 93.4,473.9 96.9,475.1 100.3,476.2 103.8,477.4 107.3,478.5 110.7,479.7 114.2,480.9 117.7,482.0 121.1,483.1 124.6,484.3 128.0,485.4 131.5,486.4 135.0,487.5 138.4,488.5 141.9,489.5 145.4,490.4 148.8,491.3 152.3,492.2 155.8,493.1 159.2,493.9 162.7,494.7 166.1,495.5 169.6,496.2 173.1,497.0 176.5,497.7 180.0,498.4 183.5,499.1 186.9,499.9 190.4,500.6 193.8,501.3 197.3,502.0 200.8,502.6 204.2,503.3 207.7,503.9 211.2,504.5 214.6,505.1 218.1,505.6 221.6,506.2 225.0,506.7 228.5,507.2 231.9,507.6 235.4,508.1 238.9,508.5 242.3,509.0 245.8,509.4 245.8,536.4 242.3,535.0 238.9,533.6 235.4,532.1 231.9,530.8 228.5,529.4 225.0,528.0 221.6,526.7 218.1,525.3 214.6,524.0 211.2,522.8 207.7,521.5 204.2,520.3 200.8,519.1 197.3,517.9 193.8,516.7 190.4,515.6 186.9,514.4 183.5,513.3 180.0,512.2 176.5,511.0 173.1,509.9 169.6,508.8 166.1,507.7 162.7,506.6 159.2,505.6 155.8,504.6 152.3,503.5 148.8,502.6 145.4,501.6 141.9,500.7 138.4,499.8 135.0,499.0 131.5,498.2 128.0,497.4 124.6,496.7 121.1,495.9 117.7,495.2 114.2,494.5 110.7,493.8 107.3,493.1 103.8,492.4 100.3,491.7 96.9,491.0 93.4,490.3 90.0,489.6 86.5,488.9 83.0,488.1 79.6,487.4 76.1,486.7 72.6,485.9 69.2,485.2 65.7,484.5 62.2,483.8 58.8,483.1 55.3,482.4 51.9,481.6 48.4,480.9 44.9,480.2 41.5,479.5 38.0,478.8" fill="#ff2020" fill-opacity="0.075"/>
<circle cx="56.6" cy="405.6" r="3.70" fill="#fff" fill-opacity="0.85"/>
<circle cx="56.6" cy="405.6" r="3.10" fill="#860c2a" stroke="#570318" stroke-width="0.85"/>
<circle cx="49.4" cy="445.6" r="3.70" fill="#fff" fill-opacity="0.85"/>
<circle cx="49.4" cy="445.6" r="3.10" fill="#bb2537" stroke="#891221" stroke-width="0.85"/>
<circle cx="51" cy="451.6" r="3.70" fill="#fff" fill-opacity="0.85"/>
<circle cx="51" cy="451.6" r="3.10" fill="#9a152f" stroke="#69091b" stroke-width="0.85"/>
<circle cx="38" cy="456.4" r="3.70" fill="#fff" fill-opacity="0.85"/>
<circle cx="38" cy="456.4" r="3.10" fill="#ae1e34" stroke="#7c0e1f" stroke-width="0.85"/>
<circle cx="46" cy="456" r="3.70" fill="#fff" fill-opacity="0.85"/>
<circle cx="46" cy="456" r="3.10" fill="#a11830" stroke="#700a1c" stroke-width="0.85"/>
<circle cx="50" cy="457.4" r="3.70" fill="#fff" fill-opacity="0.85"/>
<circle cx="50" cy="457.4" r="3.10" fill="#db6c5b" stroke="#b24f40" stroke-width="0.85"/>
<circle cx="74.6" cy="443.2" r="3.70" fill="#fff" fill-opacity="0.85"/>
<circle cx="74.6" cy="443.2" r="3.10" fill="#cb4949" stroke="#9d3030" stroke-width="0.85"/>
<circle cx="80" cy="452" r="3.70" fill="#fff" fill-opacity="0.85"/>
<circle cx="80" cy="452" r="3.10" fill="#8d0e2c" stroke="#5e051a" stroke-width="0.85"/>
<circle cx="92" cy="442" r="3.70" fill="#fff" fill-opacity="0.85"/>
<circle cx="92" cy="442" r="3.10" fill="#db6c5b" stroke="#b24f40" stroke-width="0.85"/>
<circle cx="69.6" cy="462.4" r="3.70" fill="#fff" fill-opacity="0.85"/>
<circle cx="69.6" cy="462.4" r="3.10" fill="#bb2537" stroke="#891221" stroke-width="0.85"/>
<circle cx="41.6" cy="476.3" r="3.70" fill="#fff" fill-opacity="0.85"/>
<circle cx="41.6" cy="476.3" r="3.10" fill="#8d0e2c" stroke="#5e051a" stroke-width="0.85"/>
<circle cx="101.5" cy="474.1" r="3.70" fill="#fff" fill-opacity="0.85"/>
<circle cx="101.5" cy="474.1" r="3.10" fill="#c1333f" stroke="#911d27" stroke-width="0.85"/>
<circle cx="117.9" cy="480.2" r="3.70" fill="#fff" fill-opacity="0.85"/>
<circle cx="117.9" cy="480.2" r="3.10" fill="#c1333f" stroke="#911d27" stroke-width="0.85"/>
<circle cx="59" cy="482.4" r="3.70" fill="#fff" fill-opacity="0.85"/>
<circle cx="59" cy="482.4" r="3.10" fill="#b42236" stroke="#821020" stroke-width="0.85"/>
<circle cx="91.3" cy="485.3" r="3.70" fill="#fff" fill-opacity="0.85"/>
<circle cx="91.3" cy="485.3" r="3.10" fill="#db6c5b" stroke="#b24f40" stroke-width="0.85"/>
<circle cx="110" cy="484.2" r="3.70" fill="#fff" fill-opacity="0.85"/>
<circle cx="110" cy="484.2" r="3.10" fill="#facbb3" stroke="#e3b49c" stroke-width="0.85"/>
<circle cx="114.5" cy="491.7" r="3.70" fill="#fff" fill-opacity="0.85"/>
<circle cx="114.5" cy="491.7" r="3.10" fill="#c53b42" stroke="#952429" stroke-width="0.85"/>
<circle cx="112.2" cy="491.7" r="3.70" fill="#fff" fill-opacity="0.85"/>
<circle cx="112.2" cy="491.7" r="3.10" fill="#e07a65" stroke="#b95c4a" stroke-width="0.85"/>
<circle cx="98.2" cy="496.5" r="3.70" fill="#fff" fill-opacity="0.85"/>
<circle cx="98.2" cy="496.5" r="3.10" fill="#f5ad8e" stroke="#d89273" stroke-width="0.85"/>
<circle cx="101.7" cy="498.4" r="3.70" fill="#fff" fill-opacity="0.85"/>
<circle cx="101.7" cy="498.4" r="3.10" fill="#f5ad8e" stroke="#d89273" stroke-width="0.85"/>
<circle cx="115.6" cy="499.6" r="3.70" fill="#fff" fill-opacity="0.85"/>
<circle cx="115.6" cy="499.6" r="3.10" fill="#fddfcd" stroke="#ebcbb9" stroke-width="0.85"/>
<circle cx="96.8" cy="505.3" r="3.70" fill="#fff" fill-opacity="0.85"/>
<circle cx="96.8" cy="505.3" r="3.10" fill="#f8f8f8" stroke="#ebebeb" stroke-width="0.85"/>
<circle cx="135" cy="503" r="3.70" fill="#fff" fill-opacity="0.85"/>
<circle cx="135" cy="503" r="3.10" fill="#e0ecf4" stroke="#cddae2" stroke-width="0.85"/>
<circle cx="73.6" cy="511" r="3.70" fill="#fff" fill-opacity="0.85"/>
<circle cx="73.6" cy="511" r="3.10" fill="#cb4949" stroke="#9d3030" stroke-width="0.85"/>
<circle cx="101.1" cy="513.8" r="3.70" fill="#fff" fill-opacity="0.85"/>
<circle cx="101.1" cy="513.8" r="3.10" fill="#f8bca1" stroke="#dea388" stroke-width="0.85"/>
<circle cx="110" cy="515.6" r="3.70" fill="#fff" fill-opacity="0.85"/>
<circle cx="110" cy="515.6" r="3.10" fill="#e07a65" stroke="#b95c4a" stroke-width="0.85"/>
<circle cx="88.6" cy="520" r="3.70" fill="#fff" fill-opacity="0.85"/>
<circle cx="88.6" cy="520" r="3.10" fill="#f0a083" stroke="#d08468" stroke-width="0.85"/>
<circle cx="96" cy="520.6" r="3.70" fill="#fff" fill-opacity="0.85"/>
<circle cx="96" cy="520.6" r="3.10" fill="#d55f53" stroke="#a94339" stroke-width="0.85"/>
<circle cx="92.6" cy="531.4" r="3.70" fill="#fff" fill-opacity="0.85"/>
<circle cx="92.6" cy="531.4" r="3.10" fill="#db6c5b" stroke="#b24f40" stroke-width="0.85"/>
<circle cx="134.4" cy="542" r="3.70" fill="#fff" fill-opacity="0.85"/>
<circle cx="134.4" cy="542" r="3.10" fill="#fbd5c0" stroke="#e7bfaa" stroke-width="0.85"/>
<circle cx="141.4" cy="539" r="3.70" fill="#fff" fill-opacity="0.85"/>
<circle cx="141.4" cy="539" r="3.10" fill="#cae2ee" stroke="#b4cdd9" stroke-width="0.85"/>
<circle cx="151.5" cy="447.8" r="3.70" fill="#fff" fill-opacity="0.85"/>
<circle cx="151.5" cy="447.8" r="3.10" fill="#fddfcd" stroke="#ebcbb9" stroke-width="0.85"/>
<circle cx="153.9" cy="449.6" r="3.70" fill="#fff" fill-opacity="0.85"/>
<circle cx="153.9" cy="449.6" r="3.10" fill="#8cc2de" stroke="#71a3be" stroke-width="0.85"/>
<circle cx="167.1" cy="452.5" r="3.70" fill="#fff" fill-opacity="0.85"/>
<circle cx="167.1" cy="452.5" r="3.10" fill="#a7d0e5" stroke="#8eb5ca" stroke-width="0.85"/>
<circle cx="164.2" cy="474.7" r="3.70" fill="#fff" fill-opacity="0.85"/>
<circle cx="164.2" cy="474.7" r="3.10" fill="#8cc2de" stroke="#71a3be" stroke-width="0.85"/>
<circle cx="165.8" cy="479.6" r="3.70" fill="#fff" fill-opacity="0.85"/>
<circle cx="165.8" cy="479.6" r="3.10" fill="#2361a2" stroke="#134273" stroke-width="0.85"/>
<circle cx="173.2" cy="477" r="3.70" fill="#fff" fill-opacity="0.85"/>
<circle cx="173.2" cy="477" r="3.10" fill="#144c88" stroke="#09305a" stroke-width="0.85"/>
<circle cx="165.9" cy="487.5" r="3.70" fill="#fff" fill-opacity="0.85"/>
<circle cx="165.9" cy="487.5" r="3.10" fill="#124781" stroke="#082c54" stroke-width="0.85"/>
<circle cx="164.4" cy="492.5" r="3.70" fill="#fff" fill-opacity="0.85"/>
<circle cx="164.4" cy="492.5" r="3.10" fill="#0a3c74" stroke="#032347" stroke-width="0.85"/>
<circle cx="174.5" cy="488.3" r="3.70" fill="#fff" fill-opacity="0.85"/>
<circle cx="174.5" cy="488.3" r="3.10" fill="#a7d0e5" stroke="#8eb5ca" stroke-width="0.85"/>
<circle cx="174.5" cy="492.3" r="3.70" fill="#fff" fill-opacity="0.85"/>
<circle cx="174.5" cy="492.3" r="3.10" fill="#ddebf3" stroke="#cad9e0" stroke-width="0.85"/>
<circle cx="147.2" cy="494" r="3.70" fill="#fff" fill-opacity="0.85"/>
<circle cx="147.2" cy="494" r="3.10" fill="#0a3c74" stroke="#032347" stroke-width="0.85"/>
<circle cx="168.5" cy="498.6" r="3.70" fill="#fff" fill-opacity="0.85"/>
<circle cx="168.5" cy="498.6" r="3.10" fill="#faf1eb" stroke="#ebe2dc" stroke-width="0.85"/>
<circle cx="168.9" cy="503.5" r="3.70" fill="#fff" fill-opacity="0.85"/>
<circle cx="168.9" cy="503.5" r="3.10" fill="#75b4d6" stroke="#5b93b2" stroke-width="0.85"/>
<circle cx="187.6" cy="500.8" r="3.70" fill="#fff" fill-opacity="0.85"/>
<circle cx="187.6" cy="500.8" r="3.10" fill="#b9d9ea" stroke="#a1c1d1" stroke-width="0.85"/>
<circle cx="201" cy="491" r="3.70" fill="#fff" fill-opacity="0.85"/>
<circle cx="201" cy="491" r="3.10" fill="#144c88" stroke="#09305a" stroke-width="0.85"/>
<circle cx="205.5" cy="491" r="3.70" fill="#fff" fill-opacity="0.85"/>
<circle cx="205.5" cy="491" r="3.10" fill="#5fa6cf" stroke="#4584a8" stroke-width="0.85"/>
<circle cx="222.4" cy="477.5" r="3.70" fill="#fff" fill-opacity="0.85"/>
<circle cx="222.4" cy="477.5" r="3.10" fill="#3e86c1" stroke="#286495" stroke-width="0.85"/>
<circle cx="227.1" cy="491" r="3.70" fill="#fff" fill-opacity="0.85"/>
<circle cx="227.1" cy="491" r="3.10" fill="#377fbc" stroke="#225d8f" stroke-width="0.85"/>
<circle cx="239.7" cy="494" r="3.70" fill="#fff" fill-opacity="0.85"/>
<circle cx="239.7" cy="494" r="3.10" fill="#2361a2" stroke="#134273" stroke-width="0.85"/>
<circle cx="177.5" cy="510.4" r="3.70" fill="#fff" fill-opacity="0.85"/>
<circle cx="177.5" cy="510.4" r="3.10" fill="#509cca" stroke="#377aa2" stroke-width="0.85"/>
<circle cx="238.7" cy="513.2" r="3.70" fill="#fff" fill-opacity="0.85"/>
<circle cx="238.7" cy="513.2" r="3.10" fill="#5fa6cf" stroke="#4584a8" stroke-width="0.85"/>
<circle cx="144.1" cy="516.2" r="3.70" fill="#fff" fill-opacity="0.85"/>
<circle cx="144.1" cy="516.2" r="3.10" fill="#f9c6ad" stroke="#e1ae95" stroke-width="0.85"/>
<circle cx="146.1" cy="517.6" r="3.70" fill="#fff" fill-opacity="0.85"/>
<circle cx="146.1" cy="517.6" r="3.10" fill="#d6e8f2" stroke="#c2d4de" stroke-width="0.85"/>
<circle cx="154.5" cy="516.3" r="3.70" fill="#fff" fill-opacity="0.85"/>
<circle cx="154.5" cy="516.3" r="3.10" fill="#ddebf3" stroke="#cad9e0" stroke-width="0.85"/>
<circle cx="158.5" cy="514.8" r="3.70" fill="#fff" fill-opacity="0.85"/>
<circle cx="158.5" cy="514.8" r="3.10" fill="#b9d9ea" stroke="#a1c1d1" stroke-width="0.85"/>
<circle cx="163.9" cy="515.1" r="3.70" fill="#fff" fill-opacity="0.85"/>
<circle cx="163.9" cy="515.1" r="3.10" fill="#add4e6" stroke="#94bacc" stroke-width="0.85"/>
<circle cx="170" cy="514.8" r="3.70" fill="#fff" fill-opacity="0.85"/>
<circle cx="170" cy="514.8" r="3.10" fill="#b9d9ea" stroke="#a1c1d1" stroke-width="0.85"/>
<circle cx="146.1" cy="529" r="3.70" fill="#fff" fill-opacity="0.85"/>
<circle cx="146.1" cy="529" r="3.10" fill="#f8bca1" stroke="#dea388" stroke-width="0.85"/>
<circle cx="143.1" cy="538.8" r="3.70" fill="#fff" fill-opacity="0.85"/>
<circle cx="143.1" cy="538.8" r="3.10" fill="#d6e8f2" stroke="#c2d4de" stroke-width="0.85"/>
<circle cx="195.5" cy="546.7" r="3.70" fill="#fff" fill-opacity="0.85"/>
<circle cx="195.5" cy="546.7" r="3.10" fill="#509cca" stroke="#377aa2" stroke-width="0.85"/>
<circle cx="222.4" cy="531.1" r="3.70" fill="#fff" fill-opacity="0.85"/>
<circle cx="222.4" cy="531.1" r="3.10" fill="#2666a9" stroke="#15477a" stroke-width="0.85"/>
<circle cx="236.6" cy="532.1" r="3.70" fill="#fff" fill-opacity="0.85"/>
<circle cx="236.6" cy="532.1" r="3.10" fill="#2666a9" stroke="#15477a" stroke-width="0.85"/>
<circle cx="241.1" cy="526.6" r="3.70" fill="#fff" fill-opacity="0.85"/>
<circle cx="241.1" cy="526.6" r="3.10" fill="#3e86c1" stroke="#286495" stroke-width="0.85"/>
<circle cx="245.8" cy="525" r="3.70" fill="#fff" fill-opacity="0.85"/>
<circle cx="245.8" cy="525" r="3.10" fill="#4994c6" stroke="#31719c" stroke-width="0.85"/>
<circle cx="229.5" cy="550" r="3.70" fill="#fff" fill-opacity="0.85"/>
<circle cx="229.5" cy="550" r="3.10" fill="#2666a9" stroke="#15477a" stroke-width="0.85"/>
<circle cx="241.3" cy="548.4" r="3.70" fill="#fff" fill-opacity="0.85"/>
<circle cx="241.3" cy="548.4" r="3.10" fill="#4994c6" stroke="#31719c" stroke-width="0.85"/>
<polygon points="38.0,455.8 41.5,456.9 44.9,458.1 48.4,459.2 51.9,460.4 55.3,461.5 58.8,462.7 62.2,463.8 65.7,464.9 69.2,466.1 72.6,467.2 76.1,468.3 79.6,469.4 83.0,470.6 86.5,471.7 90.0,472.8 93.4,473.9 96.9,475.1 100.3,476.2 103.8,477.4 107.3,478.5 110.7,479.7 114.2,480.9 117.7,482.0 121.1,483.1 124.6,484.3 128.0,485.4 131.5,486.4 135.0,487.5 138.4,488.5 141.9,489.5 145.4,490.4 148.8,491.3 152.3,492.2 155.8,493.1 159.2,493.9 162.7,494.7 166.1,495.5 169.6,496.2 173.1,497.0 176.5,497.7 180.0,498.4 183.5,499.1 186.9,499.9 190.4,500.6 193.8,501.3 197.3,502.0 200.8,502.6 204.2,503.3 207.7,503.9 211.2,504.5 214.6,505.1 218.1,505.6 221.6,506.2 225.0,506.7 228.5,507.2 231.9,507.6 235.4,508.1 238.9,508.5 242.3,509.0 245.8,509.4 245.8,536.4 242.3,535.0 238.9,533.6 235.4,532.1 231.9,530.8 228.5,529.4 225.0,528.0 221.6,526.7 218.1,525.3 214.6,524.0 211.2,522.8 207.7,521.5 204.2,520.3 200.8,519.1 197.3,517.9 193.8,516.7 190.4,515.6 186.9,514.4 183.5,513.3 180.0,512.2 176.5,511.0 173.1,509.9 169.6,508.8 166.1,507.7 162.7,506.6 159.2,505.6 155.8,504.6 152.3,503.5 148.8,502.6 145.4,501.6 141.9,500.7 138.4,499.8 135.0,499.0 131.5,498.2 128.0,497.4 124.6,496.7 121.1,495.9 117.7,495.2 114.2,494.5 110.7,493.8 107.3,493.1 103.8,492.4 100.3,491.7 96.9,491.0 93.4,490.3 90.0,489.6 86.5,488.9 83.0,488.1 79.6,487.4 76.1,486.7 72.6,485.9 69.2,485.2 65.7,484.5 62.2,483.8 58.8,483.1 55.3,482.4 51.9,481.6 48.4,480.9 44.9,480.2 41.5,479.5 38.0,478.8" fill="#ff2020" fill-opacity="0.07" stroke="#ff2020" stroke-opacity="0.04" stroke-width="0.6"/>
<mask id="m500" maskUnits="userSpaceOnUse" x="0" y="0" width="575" height="578"><rect width="575" height="578" fill="#fff"/><circle cx="56.6" cy="405.6" r="3.55" fill="#000"/><circle cx="49.4" cy="445.6" r="3.55" fill="#000"/><circle cx="51" cy="451.6" r="3.55" fill="#000"/><circle cx="38" cy="456.4" r="3.55" fill="#000"/><circle cx="46" cy="456" r="3.55" fill="#000"/><circle cx="50" cy="457.4" r="3.55" fill="#000"/><circle cx="74.6" cy="443.2" r="3.55" fill="#000"/><circle cx="80" cy="452" r="3.55" fill="#000"/><circle cx="92" cy="442" r="3.55" fill="#000"/><circle cx="69.6" cy="462.4" r="3.55" fill="#000"/><circle cx="41.6" cy="476.3" r="3.55" fill="#000"/><circle cx="101.5" cy="474.1" r="3.55" fill="#000"/><circle cx="117.9" cy="480.2" r="3.55" fill="#000"/><circle cx="59" cy="482.4" r="3.55" fill="#000"/><circle cx="91.3" cy="485.3" r="3.55" fill="#000"/><circle cx="114.5" cy="491.7" r="3.55" fill="#000"/><circle cx="112.2" cy="491.7" r="3.55" fill="#000"/><circle cx="98.2" cy="496.5" r="3.55" fill="#000"/><circle cx="101.7" cy="498.4" r="3.55" fill="#000"/><circle cx="73.6" cy="511" r="3.55" fill="#000"/><circle cx="101.1" cy="513.8" r="3.55" fill="#000"/><circle cx="110" cy="515.6" r="3.55" fill="#000"/><circle cx="88.6" cy="520" r="3.55" fill="#000"/><circle cx="96" cy="520.6" r="3.55" fill="#000"/><circle cx="92.6" cy="531.4" r="3.55" fill="#000"/><circle cx="153.9" cy="449.6" r="3.55" fill="#000"/><circle cx="167.1" cy="452.5" r="3.55" fill="#000"/><circle cx="164.2" cy="474.7" r="3.55" fill="#000"/><circle cx="165.8" cy="479.6" r="3.55" fill="#000"/><circle cx="173.2" cy="477" r="3.55" fill="#000"/><circle cx="165.9" cy="487.5" r="3.55" fill="#000"/><circle cx="164.4" cy="492.5" r="3.55" fill="#000"/><circle cx="174.5" cy="488.3" r="3.55" fill="#000"/><circle cx="147.2" cy="494" r="3.55" fill="#000"/><circle cx="168.9" cy="503.5" r="3.55" fill="#000"/><circle cx="201" cy="491" r="3.55" fill="#000"/><circle cx="205.5" cy="491" r="3.55" fill="#000"/><circle cx="222.4" cy="477.5" r="3.55" fill="#000"/><circle cx="227.1" cy="491" r="3.55" fill="#000"/><circle cx="239.7" cy="494" r="3.55" fill="#000"/><circle cx="177.5" cy="510.4" r="3.55" fill="#000"/><circle cx="238.7" cy="513.2" r="3.55" fill="#000"/><circle cx="163.9" cy="515.1" r="3.55" fill="#000"/><circle cx="146.1" cy="529" r="3.55" fill="#000"/><circle cx="195.5" cy="546.7" r="3.55" fill="#000"/><circle cx="222.4" cy="531.1" r="3.55" fill="#000"/><circle cx="236.6" cy="532.1" r="3.55" fill="#000"/><circle cx="241.1" cy="526.6" r="3.55" fill="#000"/><circle cx="245.8" cy="525" r="3.55" fill="#000"/><circle cx="229.5" cy="550" r="3.55" fill="#000"/><circle cx="241.3" cy="548.4" r="3.55" fill="#000"/></mask>
<line x1="38" y1="467.3" x2="245.8" y2="522.9" stroke="#fff" stroke-width="3.3" stroke-opacity="0.9" mask="url(#m500)"/>
<line x1="38" y1="467.3" x2="245.8" y2="522.9" stroke="#f43333" stroke-width="1.25" stroke-opacity="0.92"/>
<rect x="27.3" y="398.5" width="228.90" height="158.70" fill="none" stroke="#858585" stroke-width="1"/>
<line x1="37.90" y1="557.2" x2="37.90" y2="559.2" stroke="#858585" stroke-width="0.8"/>
<g transform="translate(37.90,567.40) scale(0.945,1)"><text x="0" y="0" font-size="8.6" text-anchor="middle" fill="#111" stroke="#111" stroke-width="0.3">0.225</text></g>
<line x1="63.60" y1="557.2" x2="63.60" y2="559.2" stroke="#858585" stroke-width="0.8"/>
<g transform="translate(63.60,567.40) scale(0.945,1)"><text x="0" y="0" font-size="8.6" text-anchor="middle" fill="#111" stroke="#111" stroke-width="0.3">0.250</text></g>
<line x1="89.30" y1="557.2" x2="89.30" y2="559.2" stroke="#858585" stroke-width="0.8"/>
<g transform="translate(89.30,567.40) scale(0.945,1)"><text x="0" y="0" font-size="8.6" text-anchor="middle" fill="#111" stroke="#111" stroke-width="0.3">0.275</text></g>
<line x1="115.00" y1="557.2" x2="115.00" y2="559.2" stroke="#858585" stroke-width="0.8"/>
<g transform="translate(115.00,567.40) scale(0.945,1)"><text x="0" y="0" font-size="8.6" text-anchor="middle" fill="#111" stroke="#111" stroke-width="0.3">0.300</text></g>
<line x1="140.70" y1="557.2" x2="140.70" y2="559.2" stroke="#858585" stroke-width="0.8"/>
<g transform="translate(140.70,567.40) scale(0.945,1)"><text x="0" y="0" font-size="8.6" text-anchor="middle" fill="#111" stroke="#111" stroke-width="0.3">0.325</text></g>
<line x1="166.40" y1="557.2" x2="166.40" y2="559.2" stroke="#858585" stroke-width="0.8"/>
<g transform="translate(166.40,567.40) scale(0.945,1)"><text x="0" y="0" font-size="8.6" text-anchor="middle" fill="#111" stroke="#111" stroke-width="0.3">0.350</text></g>
<line x1="192.10" y1="557.2" x2="192.10" y2="559.2" stroke="#858585" stroke-width="0.8"/>
<g transform="translate(192.10,567.40) scale(0.945,1)"><text x="0" y="0" font-size="8.6" text-anchor="middle" fill="#111" stroke="#111" stroke-width="0.3">0.375</text></g>
<line x1="217.80" y1="557.2" x2="217.80" y2="559.2" stroke="#858585" stroke-width="0.8"/>
<g transform="translate(217.80,567.40) scale(0.945,1)"><text x="0" y="0" font-size="8.6" text-anchor="middle" fill="#111" stroke="#111" stroke-width="0.3">0.400</text></g>
<line x1="243.50" y1="557.2" x2="243.50" y2="559.2" stroke="#858585" stroke-width="0.8"/>
<g transform="translate(243.50,567.40) scale(0.945,1)"><text x="0" y="0" font-size="8.6" text-anchor="middle" fill="#111" stroke="#111" stroke-width="0.3">0.425</text></g>
<line x1="25.3" y1="414.70" x2="27.3" y2="414.70" stroke="#858585" stroke-width="0.8"/>
<g transform="translate(24.70,417.70) scale(0.94,1)"><text x="0" y="0" font-size="8.6" text-anchor="end" fill="#111" stroke="#111" stroke-width="0.3">7.6</text></g>
<line x1="25.3" y1="440.28" x2="27.3" y2="440.28" stroke="#858585" stroke-width="0.8"/>
<g transform="translate(24.70,443.28) scale(0.94,1)"><text x="0" y="0" font-size="8.6" text-anchor="end" fill="#111" stroke="#111" stroke-width="0.3">7.4</text></g>
<line x1="25.3" y1="465.86" x2="27.3" y2="465.86" stroke="#858585" stroke-width="0.8"/>
<g transform="translate(24.70,468.86) scale(0.94,1)"><text x="0" y="0" font-size="8.6" text-anchor="end" fill="#111" stroke="#111" stroke-width="0.3">7.2</text></g>
<line x1="25.3" y1="491.44" x2="27.3" y2="491.44" stroke="#858585" stroke-width="0.8"/>
<g transform="translate(24.70,494.44) scale(0.94,1)"><text x="0" y="0" font-size="8.6" text-anchor="end" fill="#111" stroke="#111" stroke-width="0.3">7.0</text></g>
<line x1="25.3" y1="517.02" x2="27.3" y2="517.02" stroke="#858585" stroke-width="0.8"/>
<g transform="translate(24.70,520.02) scale(0.94,1)"><text x="0" y="0" font-size="8.6" text-anchor="end" fill="#111" stroke="#111" stroke-width="0.3">6.8</text></g>
<line x1="25.3" y1="542.60" x2="27.3" y2="542.60" stroke="#858585" stroke-width="0.8"/>
<g transform="translate(24.70,545.60) scale(0.94,1)"><text x="0" y="0" font-size="8.6" text-anchor="end" fill="#111" stroke="#111" stroke-width="0.3">6.6</text></g>
<g transform="translate(142.00,575.40) scale(0.96,1)"><text x="0" y="0" font-size="8.6" text-anchor="middle" fill="#111" stroke="#111" stroke-width="0.3">AOD</text></g>
<g transform="translate(9.30,478.30) rotate(-90) scale(0.957,1)"><text x="0" y="0" font-size="8.6" text-anchor="middle" fill="#111" stroke="#111" stroke-width="0.3">Heatwave Mean Duration (days/event)</text></g>
<g transform="translate(27.50,396.50) scale(1.055,1)"><text x="0" y="0" font-size="9.5" text-anchor="start" fill="#111" stroke="#111" stroke-width="0.3">(c) Heatwave Mean Duration Versus AOD</text></g>
<rect x="166.5" y="401.8" width="85.8" height="12.4" rx="1.6" fill="#fff" fill-opacity="0.85" stroke="#d6d6d6" stroke-width="0.8"/>
<line x1="169.3" y1="408.00" x2="184.1" y2="408.00" stroke="#f03535" stroke-width="1.0" stroke-opacity="0.9"/>
<g transform="translate(189.70,410.60) scale(0.952,1)"><text x="0" y="0" font-size="7.6" text-anchor="start" fill="#222" stroke="#222" stroke-width="0.1">Slope = -2.15 ± 0.43</text></g>
<polygon points="298.0,114.2 301.5,113.2 304.9,112.2 308.4,111.1 311.9,110.1 315.3,109.1 318.8,108.0 322.2,106.9 325.7,105.9 329.2,104.8 332.6,103.7 336.1,102.6 339.6,101.4 343.0,100.3 346.5,99.2 349.9,98.0 353.4,96.8 356.9,95.7 360.3,94.5 363.8,93.3 367.3,92.1 370.7,90.9 374.2,89.7 377.7,88.5 381.1,87.3 384.6,86.1 388.0,84.9 391.5,83.7 395.0,82.5 398.4,81.2 401.9,80.0 405.4,78.8 408.8,77.5 412.3,76.3 415.8,75.1 419.2,73.8 422.7,72.6 426.1,71.3 429.6,70.1 433.1,68.8 436.5,67.6 440.0,66.3 443.5,65.1 446.9,63.8 450.4,62.5 453.9,61.2 457.3,59.9 460.8,58.6 464.2,57.3 467.7,56.0 471.2,54.6 474.6,53.2 478.1,51.7 481.6,50.2 485.0,48.7 488.5,47.1 491.9,45.4 495.4,43.8 498.9,42.1 502.3,40.4 505.8,38.7 505.8,62.1 502.3,62.7 498.9,63.4 495.4,64.0 491.9,64.7 488.5,65.4 485.0,66.1 481.6,66.9 478.1,67.7 474.6,68.6 471.2,69.5 467.7,70.5 464.2,71.5 460.8,72.5 457.3,73.5 453.9,74.6 450.4,75.6 446.9,76.7 443.5,77.7 440.0,78.8 436.5,79.9 433.1,81.0 429.6,82.0 426.1,83.1 422.7,84.2 419.2,85.3 415.8,86.4 412.3,87.5 408.8,88.6 405.4,89.7 401.9,90.8 398.4,91.9 395.0,93.0 391.5,94.1 388.0,95.2 384.6,96.4 381.1,97.5 377.7,98.6 374.2,99.7 370.7,100.9 367.3,102.0 363.8,103.2 360.3,104.3 356.9,105.5 353.4,106.6 349.9,107.8 346.5,109.0 343.0,110.2 339.6,111.4 336.1,112.6 332.6,113.8 329.2,115.0 325.7,116.3 322.2,117.5 318.8,118.8 315.3,120.1 311.9,121.4 308.4,122.7 304.9,124.0 301.5,125.3 298.0,126.6" fill="#ff2020" fill-opacity="0.075"/>
<circle cx="334.6" cy="68.6" r="3.70" fill="#fff" fill-opacity="0.85"/>
<circle cx="334.6" cy="68.6" r="3.10" fill="#e07a65" stroke="#b95c4a" stroke-width="0.85"/>
<circle cx="343.3" cy="64.6" r="3.70" fill="#fff" fill-opacity="0.85"/>
<circle cx="343.3" cy="64.6" r="3.10" fill="#f0a083" stroke="#d08468" stroke-width="0.85"/>
<circle cx="349.6" cy="76" r="3.70" fill="#fff" fill-opacity="0.85"/>
<circle cx="349.6" cy="76" r="3.10" fill="#f5ad8e" stroke="#d89273" stroke-width="0.85"/>
<circle cx="341.2" cy="81.1" r="3.70" fill="#fff" fill-opacity="0.85"/>
<circle cx="341.2" cy="81.1" r="3.10" fill="#e07a65" stroke="#b95c4a" stroke-width="0.85"/>
<circle cx="357.4" cy="83" r="3.70" fill="#fff" fill-opacity="0.85"/>
<circle cx="357.4" cy="83" r="3.10" fill="#f7b89b" stroke="#dc9d81" stroke-width="0.85"/>
<circle cx="382.4" cy="67" r="3.70" fill="#fff" fill-opacity="0.85"/>
<circle cx="382.4" cy="67" r="3.10" fill="#eef3f6" stroke="#dfe4e7" stroke-width="0.85"/>
<circle cx="299.4" cy="92.6" r="3.70" fill="#fff" fill-opacity="0.85"/>
<circle cx="299.4" cy="92.6" r="3.10" fill="#8d0e2c" stroke="#5e051a" stroke-width="0.85"/>
<circle cx="302" cy="96" r="3.70" fill="#fff" fill-opacity="0.85"/>
<circle cx="302" cy="96" r="3.10" fill="#9a152f" stroke="#69091b" stroke-width="0.85"/>
<circle cx="314.6" cy="93.4" r="3.70" fill="#fff" fill-opacity="0.85"/>
<circle cx="314.6" cy="93.4" r="3.10" fill="#d55f53" stroke="#a94339" stroke-width="0.85"/>
<circle cx="324.4" cy="98.6" r="3.70" fill="#fff" fill-opacity="0.85"/>
<circle cx="324.4" cy="98.6" r="3.10" fill="#e07a65" stroke="#b95c4a" stroke-width="0.85"/>
<circle cx="328.4" cy="97" r="3.70" fill="#fff" fill-opacity="0.85"/>
<circle cx="328.4" cy="97" r="3.10" fill="#ed9a7e" stroke="#cc7d63" stroke-width="0.85"/>
<circle cx="320" cy="104.6" r="3.70" fill="#fff" fill-opacity="0.85"/>
<circle cx="320" cy="104.6" r="3.10" fill="#db6c5b" stroke="#b24f40" stroke-width="0.85"/>
<circle cx="343.3" cy="93" r="3.70" fill="#fff" fill-opacity="0.85"/>
<circle cx="343.3" cy="93" r="3.10" fill="#f0a083" stroke="#d08468" stroke-width="0.85"/>
<circle cx="345.3" cy="94" r="3.70" fill="#fff" fill-opacity="0.85"/>
<circle cx="345.3" cy="94" r="3.10" fill="#f5ad8e" stroke="#d89273" stroke-width="0.85"/>
<circle cx="353.9" cy="96" r="3.70" fill="#fff" fill-opacity="0.85"/>
<circle cx="353.9" cy="96" r="3.10" fill="#f8bca1" stroke="#dea388" stroke-width="0.85"/>
<circle cx="362.6" cy="94.8" r="3.70" fill="#fff" fill-opacity="0.85"/>
<circle cx="362.6" cy="94.8" r="3.10" fill="#f8bca1" stroke="#dea388" stroke-width="0.85"/>
<circle cx="367" cy="101" r="3.70" fill="#fff" fill-opacity="0.85"/>
<circle cx="367" cy="101" r="3.10" fill="#fbd5c0" stroke="#e7bfaa" stroke-width="0.85"/>
<circle cx="376.5" cy="99.1" r="3.70" fill="#fff" fill-opacity="0.85"/>
<circle cx="376.5" cy="99.1" r="3.10" fill="#faf1eb" stroke="#ebe2dc" stroke-width="0.85"/>
<circle cx="380" cy="97.4" r="3.70" fill="#fff" fill-opacity="0.85"/>
<circle cx="380" cy="97.4" r="3.10" fill="#f8f8f8" stroke="#ebebeb" stroke-width="0.85"/>
<circle cx="371" cy="111.4" r="3.70" fill="#fff" fill-opacity="0.85"/>
<circle cx="371" cy="111.4" r="3.10" fill="#fddfcd" stroke="#ebcbb9" stroke-width="0.85"/>
<circle cx="393" cy="104" r="3.70" fill="#fff" fill-opacity="0.85"/>
<circle cx="393" cy="104" r="3.10" fill="#ddebf3" stroke="#cad9e0" stroke-width="0.85"/>
<circle cx="399" cy="116.6" r="3.70" fill="#fff" fill-opacity="0.85"/>
<circle cx="399" cy="116.6" r="3.10" fill="#d6e8f2" stroke="#c2d4de" stroke-width="0.85"/>
<circle cx="396.6" cy="120.4" r="3.70" fill="#fff" fill-opacity="0.85"/>
<circle cx="396.6" cy="120.4" r="3.10" fill="#d6e8f2" stroke="#c2d4de" stroke-width="0.85"/>
<circle cx="303" cy="108" r="3.70" fill="#fff" fill-opacity="0.85"/>
<circle cx="303" cy="108" r="3.10" fill="#ae1e34" stroke="#7c0e1f" stroke-width="0.85"/>
<circle cx="301.4" cy="111" r="3.70" fill="#fff" fill-opacity="0.85"/>
<circle cx="301.4" cy="111" r="3.10" fill="#ae1e34" stroke="#7c0e1f" stroke-width="0.85"/>
<circle cx="304.6" cy="112" r="3.70" fill="#fff" fill-opacity="0.85"/>
<circle cx="304.6" cy="112" r="3.10" fill="#bb2537" stroke="#891221" stroke-width="0.85"/>
<circle cx="306.4" cy="119" r="3.70" fill="#fff" fill-opacity="0.85"/>
<circle cx="306.4" cy="119" r="3.10" fill="#c1333f" stroke="#911d27" stroke-width="0.85"/>
<circle cx="309" cy="121.6" r="3.70" fill="#fff" fill-opacity="0.85"/>
<circle cx="309" cy="121.6" r="3.10" fill="#cb4949" stroke="#9d3030" stroke-width="0.85"/>
<circle cx="308" cy="118" r="3.70" fill="#fff" fill-opacity="0.85"/>
<circle cx="308" cy="118" r="3.10" fill="#c1333f" stroke="#911d27" stroke-width="0.85"/>
<circle cx="316" cy="125" r="3.70" fill="#fff" fill-opacity="0.85"/>
<circle cx="316" cy="125" r="3.10" fill="#db6c5b" stroke="#b24f40" stroke-width="0.85"/>
<circle cx="319" cy="125" r="3.70" fill="#fff" fill-opacity="0.85"/>
<circle cx="319" cy="125" r="3.10" fill="#db6c5b" stroke="#b24f40" stroke-width="0.85"/>
<circle cx="322.6" cy="127.4" r="3.70" fill="#fff" fill-opacity="0.85"/>
<circle cx="322.6" cy="127.4" r="3.10" fill="#e07a65" stroke="#b95c4a" stroke-width="0.85"/>
<circle cx="329.6" cy="123" r="3.70" fill="#fff" fill-opacity="0.85"/>
<circle cx="329.6" cy="123" r="3.10" fill="#eb937a" stroke="#c8765e" stroke-width="0.85"/>
<circle cx="298.6" cy="126.6" r="3.70" fill="#fff" fill-opacity="0.85"/>
<circle cx="298.6" cy="126.6" r="3.10" fill="#860c2a" stroke="#570318" stroke-width="0.85"/>
<circle cx="298" cy="134.6" r="3.70" fill="#fff" fill-opacity="0.85"/>
<circle cx="298" cy="134.6" r="3.10" fill="#860c2a" stroke="#570318" stroke-width="0.85"/>
<circle cx="304" cy="139" r="3.70" fill="#fff" fill-opacity="0.85"/>
<circle cx="304" cy="139" r="3.10" fill="#bb2537" stroke="#891221" stroke-width="0.85"/>
<circle cx="300.4" cy="143.6" r="3.70" fill="#fff" fill-opacity="0.85"/>
<circle cx="300.4" cy="143.6" r="3.10" fill="#94122e" stroke="#63071b" stroke-width="0.85"/>
<circle cx="312.6" cy="144.6" r="3.70" fill="#fff" fill-opacity="0.85"/>
<circle cx="312.6" cy="144.6" r="3.10" fill="#cb4949" stroke="#9d3030" stroke-width="0.85"/>
<circle cx="311.4" cy="161.6" r="3.70" fill="#fff" fill-opacity="0.85"/>
<circle cx="311.4" cy="161.6" r="3.10" fill="#cb4949" stroke="#9d3030" stroke-width="0.85"/>
<circle cx="386.6" cy="89" r="3.70" fill="#fff" fill-opacity="0.85"/>
<circle cx="386.6" cy="89" r="3.10" fill="#f8f8f8" stroke="#ebebeb" stroke-width="0.85"/>
<circle cx="502.3" cy="17.5" r="3.70" fill="#fff" fill-opacity="0.85"/>
<circle cx="502.3" cy="17.5" r="3.10" fill="#2666a9" stroke="#15477a" stroke-width="0.85"/>
<circle cx="490.5" cy="32.4" r="3.70" fill="#fff" fill-opacity="0.85"/>
<circle cx="490.5" cy="32.4" r="3.10" fill="#2d71b6" stroke="#1a5088" stroke-width="0.85"/>
<circle cx="495.2" cy="40.9" r="3.70" fill="#fff" fill-opacity="0.85"/>
<circle cx="495.2" cy="40.9" r="3.10" fill="#2d71b6" stroke="#1a5088" stroke-width="0.85"/>
<circle cx="469.2" cy="40.5" r="3.70" fill="#fff" fill-opacity="0.85"/>
<circle cx="469.2" cy="40.5" r="3.10" fill="#3e86c1" stroke="#286495" stroke-width="0.85"/>
<circle cx="466.1" cy="43" r="3.70" fill="#fff" fill-opacity="0.85"/>
<circle cx="466.1" cy="43" r="3.10" fill="#4690c4" stroke="#2e6d99" stroke-width="0.85"/>
<circle cx="474.9" cy="46.6" r="3.70" fill="#fff" fill-opacity="0.85"/>
<circle cx="474.9" cy="46.6" r="3.10" fill="#377fbc" stroke="#225d8f" stroke-width="0.85"/>
<circle cx="478.3" cy="47.6" r="3.70" fill="#fff" fill-opacity="0.85"/>
<circle cx="478.3" cy="47.6" r="3.10" fill="#377fbc" stroke="#225d8f" stroke-width="0.85"/>
<circle cx="486.1" cy="53.3" r="3.70" fill="#fff" fill-opacity="0.85"/>
<circle cx="486.1" cy="53.3" r="3.10" fill="#347aba" stroke="#1f588d" stroke-width="0.85"/>
<circle cx="505.8" cy="74.1" r="3.70" fill="#fff" fill-opacity="0.85"/>
<circle cx="505.8" cy="74.1" r="3.10" fill="#1c5795" stroke="#0e3966" stroke-width="0.85"/>
<circle cx="404.4" cy="61" r="3.70" fill="#fff" fill-opacity="0.85"/>
<circle cx="404.4" cy="61" r="3.10" fill="#d6e8f2" stroke="#c2d4de" stroke-width="0.85"/>
<circle cx="419.4" cy="61.6" r="3.70" fill="#fff" fill-opacity="0.85"/>
<circle cx="419.4" cy="61.6" r="3.10" fill="#a7d0e5" stroke="#8eb5ca" stroke-width="0.85"/>
<circle cx="421.3" cy="68.3" r="3.70" fill="#fff" fill-opacity="0.85"/>
<circle cx="421.3" cy="68.3" r="3.10" fill="#9bcbe2" stroke="#81aec5" stroke-width="0.85"/>
<circle cx="413.8" cy="72.1" r="3.70" fill="#fff" fill-opacity="0.85"/>
<circle cx="413.8" cy="72.1" r="3.10" fill="#a7d0e5" stroke="#8eb5ca" stroke-width="0.85"/>
<circle cx="428.8" cy="75.6" r="3.70" fill="#fff" fill-opacity="0.85"/>
<circle cx="428.8" cy="75.6" r="3.10" fill="#8cc2de" stroke="#71a3be" stroke-width="0.85"/>
<circle cx="436.7" cy="78" r="3.70" fill="#fff" fill-opacity="0.85"/>
<circle cx="436.7" cy="78" r="3.10" fill="#75b4d6" stroke="#5b93b2" stroke-width="0.85"/>
<circle cx="445.4" cy="74.5" r="3.70" fill="#fff" fill-opacity="0.85"/>
<circle cx="445.4" cy="74.5" r="3.10" fill="#509cca" stroke="#377aa2" stroke-width="0.85"/>
<circle cx="452.9" cy="81.4" r="3.70" fill="#fff" fill-opacity="0.85"/>
<circle cx="452.9" cy="81.4" r="3.10" fill="#509cca" stroke="#377aa2" stroke-width="0.85"/>
<circle cx="460.6" cy="76.1" r="3.70" fill="#fff" fill-opacity="0.85"/>
<circle cx="460.6" cy="76.1" r="3.10" fill="#509cca" stroke="#377aa2" stroke-width="0.85"/>
<circle cx="402.6" cy="81.2" r="3.70" fill="#fff" fill-opacity="0.85"/>
<circle cx="402.6" cy="81.2" r="3.10" fill="#e7f0f5" stroke="#d6dfe5" stroke-width="0.85"/>
<circle cx="432.9" cy="96" r="3.70" fill="#fff" fill-opacity="0.85"/>
<circle cx="432.9" cy="96" r="3.10" fill="#8cc2de" stroke="#71a3be" stroke-width="0.85"/>
<circle cx="409.7" cy="103.8" r="3.70" fill="#fff" fill-opacity="0.85"/>
<circle cx="409.7" cy="103.8" r="3.10" fill="#b9d9ea" stroke="#a1c1d1" stroke-width="0.85"/>
<circle cx="440" cy="109" r="3.70" fill="#fff" fill-opacity="0.85"/>
<circle cx="440" cy="109" r="3.10" fill="#75b4d6" stroke="#5b93b2" stroke-width="0.85"/>
<circle cx="405.7" cy="116" r="3.70" fill="#fff" fill-opacity="0.85"/>
<circle cx="405.7" cy="116" r="3.10" fill="#cae2ee" stroke="#b4cdd9" stroke-width="0.85"/>
<circle cx="456" cy="122.1" r="3.70" fill="#fff" fill-opacity="0.85"/>
<circle cx="456" cy="122.1" r="3.10" fill="#4994c6" stroke="#31719c" stroke-width="0.85"/>
<polygon points="298.0,114.2 301.5,113.2 304.9,112.2 308.4,111.1 311.9,110.1 315.3,109.1 318.8,108.0 322.2,106.9 325.7,105.9 329.2,104.8 332.6,103.7 336.1,102.6 339.6,101.4 343.0,100.3 346.5,99.2 349.9,98.0 353.4,96.8 356.9,95.7 360.3,94.5 363.8,93.3 367.3,92.1 370.7,90.9 374.2,89.7 377.7,88.5 381.1,87.3 384.6,86.1 388.0,84.9 391.5,83.7 395.0,82.5 398.4,81.2 401.9,80.0 405.4,78.8 408.8,77.5 412.3,76.3 415.8,75.1 419.2,73.8 422.7,72.6 426.1,71.3 429.6,70.1 433.1,68.8 436.5,67.6 440.0,66.3 443.5,65.1 446.9,63.8 450.4,62.5 453.9,61.2 457.3,59.9 460.8,58.6 464.2,57.3 467.7,56.0 471.2,54.6 474.6,53.2 478.1,51.7 481.6,50.2 485.0,48.7 488.5,47.1 491.9,45.4 495.4,43.8 498.9,42.1 502.3,40.4 505.8,38.7 505.8,62.1 502.3,62.7 498.9,63.4 495.4,64.0 491.9,64.7 488.5,65.4 485.0,66.1 481.6,66.9 478.1,67.7 474.6,68.6 471.2,69.5 467.7,70.5 464.2,71.5 460.8,72.5 457.3,73.5 453.9,74.6 450.4,75.6 446.9,76.7 443.5,77.7 440.0,78.8 436.5,79.9 433.1,81.0 429.6,82.0 426.1,83.1 422.7,84.2 419.2,85.3 415.8,86.4 412.3,87.5 408.8,88.6 405.4,89.7 401.9,90.8 398.4,91.9 395.0,93.0 391.5,94.1 388.0,95.2 384.6,96.4 381.1,97.5 377.7,98.6 374.2,99.7 370.7,100.9 367.3,102.0 363.8,103.2 360.3,104.3 356.9,105.5 353.4,106.6 349.9,107.8 346.5,109.0 343.0,110.2 339.6,111.4 336.1,112.6 332.6,113.8 329.2,115.0 325.7,116.3 322.2,117.5 318.8,118.8 315.3,120.1 311.9,121.4 308.4,122.7 304.9,124.0 301.5,125.3 298.0,126.6" fill="#ff2020" fill-opacity="0.07" stroke="#ff2020" stroke-opacity="0.04" stroke-width="0.6"/>
<mask id="m670" maskUnits="userSpaceOnUse" x="0" y="0" width="575" height="578"><rect width="575" height="578" fill="#fff"/><circle cx="334.6" cy="68.6" r="3.55" fill="#000"/><circle cx="343.3" cy="64.6" r="3.55" fill="#000"/><circle cx="349.6" cy="76" r="3.55" fill="#000"/><circle cx="341.2" cy="81.1" r="3.55" fill="#000"/><circle cx="357.4" cy="83" r="3.55" fill="#000"/><circle cx="299.4" cy="92.6" r="3.55" fill="#000"/><circle cx="302" cy="96" r="3.55" fill="#000"/><circle cx="314.6" cy="93.4" r="3.55" fill="#000"/><circle cx="324.4" cy="98.6" r="3.55" fill="#000"/><circle cx="328.4" cy="97" r="3.55" fill="#000"/><circle cx="320" cy="104.6" r="3.55" fill="#000"/><circle cx="343.3" cy="93" r="3.55" fill="#000"/><circle cx="345.3" cy="94" r="3.55" fill="#000"/><circle cx="353.9" cy="96" r="3.55" fill="#000"/><circle cx="362.6" cy="94.8" r="3.55" fill="#000"/><circle cx="303" cy="108" r="3.55" fill="#000"/><circle cx="301.4" cy="111" r="3.55" fill="#000"/><circle cx="304.6" cy="112" r="3.55" fill="#000"/><circle cx="306.4" cy="119" r="3.55" fill="#000"/><circle cx="309" cy="121.6" r="3.55" fill="#000"/><circle cx="308" cy="118" r="3.55" fill="#000"/><circle cx="316" cy="125" r="3.55" fill="#000"/><circle cx="319" cy="125" r="3.55" fill="#000"/><circle cx="322.6" cy="127.4" r="3.55" fill="#000"/><circle cx="329.6" cy="123" r="3.55" fill="#000"/><circle cx="298.6" cy="126.6" r="3.55" fill="#000"/><circle cx="298" cy="134.6" r="3.55" fill="#000"/><circle cx="304" cy="139" r="3.55" fill="#000"/><circle cx="300.4" cy="143.6" r="3.55" fill="#000"/><circle cx="312.6" cy="144.6" r="3.55" fill="#000"/><circle cx="311.4" cy="161.6" r="3.55" fill="#000"/><circle cx="502.3" cy="17.5" r="3.55" fill="#000"/><circle cx="490.5" cy="32.4" r="3.55" fill="#000"/><circle cx="495.2" cy="40.9" r="3.55" fill="#000"/><circle cx="469.2" cy="40.5" r="3.55" fill="#000"/><circle cx="466.1" cy="43" r="3.55" fill="#000"/><circle cx="474.9" cy="46.6" r="3.55" fill="#000"/><circle cx="478.3" cy="47.6" r="3.55" fill="#000"/><circle cx="486.1" cy="53.3" r="3.55" fill="#000"/><circle cx="505.8" cy="74.1" r="3.55" fill="#000"/><circle cx="419.4" cy="61.6" r="3.55" fill="#000"/><circle cx="421.3" cy="68.3" r="3.55" fill="#000"/><circle cx="413.8" cy="72.1" r="3.55" fill="#000"/><circle cx="428.8" cy="75.6" r="3.55" fill="#000"/><circle cx="436.7" cy="78" r="3.55" fill="#000"/><circle cx="445.4" cy="74.5" r="3.55" fill="#000"/><circle cx="452.9" cy="81.4" r="3.55" fill="#000"/><circle cx="460.6" cy="76.1" r="3.55" fill="#000"/><circle cx="432.9" cy="96" r="3.55" fill="#000"/><circle cx="440" cy="109" r="3.55" fill="#000"/><circle cx="456" cy="122.1" r="3.55" fill="#000"/></mask>
<line x1="298" y1="120.4" x2="505.8" y2="50.4" stroke="#fff" stroke-width="3.3" stroke-opacity="0.9" mask="url(#m670)"/>
<line x1="298" y1="120.4" x2="505.8" y2="50.4" stroke="#f43333" stroke-width="1.25" stroke-opacity="0.92"/>
<rect x="287.7" y="10.4" width="228.90" height="158.40" fill="none" stroke="#858585" stroke-width="1"/>
<line x1="318.40" y1="168.8" x2="318.40" y2="170.8" stroke="#858585" stroke-width="0.8"/>
<g transform="translate(318.40,179.00) scale(0.945,1)"><text x="0" y="0" font-size="8.6" text-anchor="middle" fill="#111" stroke="#111" stroke-width="0.3">320</text></g>
<line x1="366.92" y1="168.8" x2="366.92" y2="170.8" stroke="#858585" stroke-width="0.8"/>
<g transform="translate(366.92,179.00) scale(0.945,1)"><text x="0" y="0" font-size="8.6" text-anchor="middle" fill="#111" stroke="#111" stroke-width="0.3">340</text></g>
<line x1="415.45" y1="168.8" x2="415.45" y2="170.8" stroke="#858585" stroke-width="0.8"/>
<g transform="translate(415.45,179.00) scale(0.945,1)"><text x="0" y="0" font-size="8.6" text-anchor="middle" fill="#111" stroke="#111" stroke-width="0.3">360</text></g>
<line x1="463.97" y1="168.8" x2="463.97" y2="170.8" stroke="#858585" stroke-width="0.8"/>
<g transform="translate(463.97,179.00) scale(0.945,1)"><text x="0" y="0" font-size="8.6" text-anchor="middle" fill="#111" stroke="#111" stroke-width="0.3">380</text></g>
<line x1="512.50" y1="168.8" x2="512.50" y2="170.8" stroke="#858585" stroke-width="0.8"/>
<g transform="translate(512.50,179.00) scale(0.945,1)"><text x="0" y="0" font-size="8.6" text-anchor="middle" fill="#111" stroke="#111" stroke-width="0.3">400</text></g>
<line x1="285.7" y1="17.80" x2="287.7" y2="17.80" stroke="#858585" stroke-width="0.8"/>
<g transform="translate(285.10,20.80) scale(0.94,1)"><text x="0" y="0" font-size="8.6" text-anchor="end" fill="#111" stroke="#111" stroke-width="0.3">34.5</text></g>
<line x1="285.7" y1="50.50" x2="287.7" y2="50.50" stroke="#858585" stroke-width="0.8"/>
<g transform="translate(285.10,53.50) scale(0.94,1)"><text x="0" y="0" font-size="8.6" text-anchor="end" fill="#111" stroke="#111" stroke-width="0.3">34.0</text></g>
<line x1="285.7" y1="83.20" x2="287.7" y2="83.20" stroke="#858585" stroke-width="0.8"/>
<g transform="translate(285.10,86.20) scale(0.94,1)"><text x="0" y="0" font-size="8.6" text-anchor="end" fill="#111" stroke="#111" stroke-width="0.3">33.5</text></g>
<line x1="285.7" y1="115.90" x2="287.7" y2="115.90" stroke="#858585" stroke-width="0.8"/>
<g transform="translate(285.10,118.90) scale(0.94,1)"><text x="0" y="0" font-size="8.6" text-anchor="end" fill="#111" stroke="#111" stroke-width="0.3">33.0</text></g>
<line x1="285.7" y1="148.60" x2="287.7" y2="148.60" stroke="#858585" stroke-width="0.8"/>
<g transform="translate(285.10,151.60) scale(0.94,1)"><text x="0" y="0" font-size="8.6" text-anchor="end" fill="#111" stroke="#111" stroke-width="0.3">32.5</text></g>
<g transform="translate(402.20,188.20) scale(0.96,1)"><text x="0" y="0" font-size="8.6" text-anchor="middle" fill="#111" stroke="#111" stroke-width="0.3">CO<tspan font-size="7.2" dy="2.1">2</tspan><tspan dy="-2.1"> (ppm)</tspan></text></g>
<g transform="translate(266.80,89.80) rotate(-90) scale(0.957,1)"><text x="0" y="0" font-size="8.6" text-anchor="middle" fill="#111" stroke="#111" stroke-width="0.3">TXx (°C)</text></g>
<g transform="translate(287.90,8.40) scale(1.055,1)"><text x="0" y="0" font-size="9.5" text-anchor="start" fill="#111" stroke="#111" stroke-width="0.3">(d) TXx Versus CO<tspan font-size="7.2" dy="2.1">2</tspan><tspan dy="-2.1"> Concentrations</tspan></text></g>
<rect x="291.4" y="14.0" width="90.0" height="12.2" rx="1.6" fill="#fff" fill-opacity="0.85" stroke="#d6d6d6" stroke-width="0.8"/>
<line x1="294.2" y1="20.10" x2="309.0" y2="20.10" stroke="#f03535" stroke-width="1.0" stroke-opacity="0.9"/>
<g transform="translate(314.60,22.70) scale(0.952,1)"><text x="0" y="0" font-size="7.6" text-anchor="start" fill="#222" stroke="#222" stroke-width="0.1">Slope = 0.012 ± 0.001</text></g>
<polygon points="298.0,291.1 301.5,290.3 304.9,289.6 308.4,288.8 311.9,288.0 315.3,287.2 318.8,286.4 322.2,285.5 325.7,284.7 329.2,283.9 332.6,283.0 336.1,282.1 339.6,281.2 343.0,280.3 346.5,279.4 349.9,278.4 353.4,277.5 356.9,276.5 360.3,275.6 363.8,274.6 367.3,273.7 370.7,272.7 374.2,271.8 377.7,270.9 381.1,270.0 384.6,269.1 388.0,268.2 391.5,267.3 395.0,266.4 398.4,265.5 401.9,264.5 405.4,263.6 408.8,262.7 412.3,261.8 415.8,260.9 419.2,260.0 422.7,259.1 426.1,258.1 429.6,257.2 433.1,256.2 436.5,255.2 440.0,254.2 443.5,253.1 446.9,252.1 450.4,251.0 453.9,249.9 457.3,248.9 460.8,247.8 464.2,246.6 467.7,245.5 471.2,244.4 474.6,243.2 478.1,242.0 481.6,240.7 485.0,239.4 488.5,238.0 491.9,236.6 495.4,235.1 498.9,233.7 502.3,232.2 505.8,230.7 505.8,260.7 502.3,261.0 498.9,261.3 495.4,261.6 491.9,262.0 488.5,262.4 485.0,262.8 481.6,263.3 478.1,263.8 474.6,264.3 471.2,265.0 467.7,265.6 464.2,266.3 460.8,267.0 457.3,267.7 453.9,268.4 450.4,269.1 446.9,269.9 443.5,270.6 440.0,271.4 436.5,272.2 433.1,273.0 429.6,273.8 426.1,274.6 422.7,275.5 419.2,276.3 415.8,277.2 412.3,278.1 408.8,279.0 405.4,279.9 401.9,280.8 398.4,281.6 395.0,282.5 391.5,283.4 388.0,284.3 384.6,285.2 381.1,286.1 377.7,287.0 374.2,287.8 370.7,288.7 367.3,289.6 363.8,290.4 360.3,291.3 356.9,292.1 353.4,293.0 349.9,293.8 346.5,294.7 343.0,295.5 339.6,296.4 336.1,297.3 332.6,298.2 329.2,299.2 325.7,300.1 322.2,301.1 318.8,302.1 315.3,303.0 311.9,304.0 308.4,305.0 304.9,306.0 301.5,307.1 298.0,308.1" fill="#ff2020" fill-opacity="0.075"/>
<circle cx="302" cy="229.6" r="3.70" fill="#fff" fill-opacity="0.85"/>
<circle cx="302" cy="229.6" r="3.10" fill="#9a152f" stroke="#69091b" stroke-width="0.85"/>
<circle cx="362.6" cy="224" r="3.70" fill="#fff" fill-opacity="0.85"/>
<circle cx="362.6" cy="224" r="3.10" fill="#fbd5c0" stroke="#e7bfaa" stroke-width="0.85"/>
<circle cx="403" cy="211.5" r="3.70" fill="#fff" fill-opacity="0.85"/>
<circle cx="403" cy="211.5" r="3.10" fill="#d6e8f2" stroke="#c2d4de" stroke-width="0.85"/>
<circle cx="334.6" cy="257" r="3.70" fill="#fff" fill-opacity="0.85"/>
<circle cx="334.6" cy="257" r="3.10" fill="#e07a65" stroke="#b95c4a" stroke-width="0.85"/>
<circle cx="349.6" cy="256.5" r="3.70" fill="#fff" fill-opacity="0.85"/>
<circle cx="349.6" cy="256.5" r="3.10" fill="#f5ad8e" stroke="#d89273" stroke-width="0.85"/>
<circle cx="345.1" cy="262.3" r="3.70" fill="#fff" fill-opacity="0.85"/>
<circle cx="345.1" cy="262.3" r="3.10" fill="#f0a083" stroke="#d08468" stroke-width="0.85"/>
<circle cx="315.7" cy="272.6" r="3.70" fill="#fff" fill-opacity="0.85"/>
<circle cx="315.7" cy="272.6" r="3.10" fill="#d15750" stroke="#a53c36" stroke-width="0.85"/>
<circle cx="329.6" cy="277" r="3.70" fill="#fff" fill-opacity="0.85"/>
<circle cx="329.6" cy="277" r="3.10" fill="#e3806a" stroke="#bd634e" stroke-width="0.85"/>
<circle cx="299.4" cy="270.6" r="3.70" fill="#fff" fill-opacity="0.85"/>
<circle cx="299.4" cy="270.6" r="3.10" fill="#860c2a" stroke="#570318" stroke-width="0.85"/>
<circle cx="301.2" cy="279.6" r="3.70" fill="#fff" fill-opacity="0.85"/>
<circle cx="301.2" cy="279.6" r="3.10" fill="#ae1e34" stroke="#7c0e1f" stroke-width="0.85"/>
<circle cx="298" cy="283.6" r="3.70" fill="#fff" fill-opacity="0.85"/>
<circle cx="298" cy="283.6" r="3.10" fill="#8d0e2c" stroke="#5e051a" stroke-width="0.85"/>
<circle cx="343" cy="282" r="3.70" fill="#fff" fill-opacity="0.85"/>
<circle cx="343" cy="282" r="3.10" fill="#e88d75" stroke="#c46f59" stroke-width="0.85"/>
<circle cx="371" cy="267.6" r="3.70" fill="#fff" fill-opacity="0.85"/>
<circle cx="371" cy="267.6" r="3.10" fill="#fbe6d9" stroke="#ebd4c7" stroke-width="0.85"/>
<circle cx="382.4" cy="261" r="3.70" fill="#fff" fill-opacity="0.85"/>
<circle cx="382.4" cy="261" r="3.10" fill="#f1f4f7" stroke="#e2e6e8" stroke-width="0.85"/>
<circle cx="396.6" cy="259" r="3.70" fill="#fff" fill-opacity="0.85"/>
<circle cx="396.6" cy="259" r="3.10" fill="#d6e8f2" stroke="#c2d4de" stroke-width="0.85"/>
<circle cx="393" cy="266" r="3.70" fill="#fff" fill-opacity="0.85"/>
<circle cx="393" cy="266" r="3.10" fill="#d6e8f2" stroke="#c2d4de" stroke-width="0.85"/>
<circle cx="365.8" cy="277.8" r="3.70" fill="#fff" fill-opacity="0.85"/>
<circle cx="365.8" cy="277.8" r="3.10" fill="#fbd5c0" stroke="#e7bfaa" stroke-width="0.85"/>
<circle cx="378.2" cy="274.9" r="3.70" fill="#fff" fill-opacity="0.85"/>
<circle cx="378.2" cy="274.9" r="3.10" fill="#f8f8f8" stroke="#ebebeb" stroke-width="0.85"/>
<circle cx="303" cy="287" r="3.70" fill="#fff" fill-opacity="0.85"/>
<circle cx="303" cy="287" r="3.10" fill="#ae1e34" stroke="#7c0e1f" stroke-width="0.85"/>
<circle cx="304.6" cy="294" r="3.70" fill="#fff" fill-opacity="0.85"/>
<circle cx="304.6" cy="294" r="3.10" fill="#bb2537" stroke="#891221" stroke-width="0.85"/>
<circle cx="308" cy="295.6" r="3.70" fill="#fff" fill-opacity="0.85"/>
<circle cx="308" cy="295.6" r="3.10" fill="#c1333f" stroke="#911d27" stroke-width="0.85"/>
<circle cx="304" cy="301" r="3.70" fill="#fff" fill-opacity="0.85"/>
<circle cx="304" cy="301" r="3.10" fill="#bb2537" stroke="#891221" stroke-width="0.85"/>
<circle cx="300" cy="310" r="3.70" fill="#fff" fill-opacity="0.85"/>
<circle cx="300" cy="310" r="3.10" fill="#94122e" stroke="#63071b" stroke-width="0.85"/>
<circle cx="305.6" cy="309" r="3.70" fill="#fff" fill-opacity="0.85"/>
<circle cx="305.6" cy="309" r="3.10" fill="#bb2537" stroke="#891221" stroke-width="0.85"/>
<circle cx="299.4" cy="318.6" r="3.70" fill="#fff" fill-opacity="0.85"/>
<circle cx="299.4" cy="318.6" r="3.10" fill="#860c2a" stroke="#570318" stroke-width="0.85"/>
<circle cx="309.6" cy="317" r="3.70" fill="#fff" fill-opacity="0.85"/>
<circle cx="309.6" cy="317" r="3.10" fill="#c1333f" stroke="#911d27" stroke-width="0.85"/>
<circle cx="315" cy="322" r="3.70" fill="#fff" fill-opacity="0.85"/>
<circle cx="315" cy="322" r="3.10" fill="#d15750" stroke="#a53c36" stroke-width="0.85"/>
<circle cx="312" cy="327" r="3.70" fill="#fff" fill-opacity="0.85"/>
<circle cx="312" cy="327" r="3.10" fill="#cb4949" stroke="#9d3030" stroke-width="0.85"/>
<circle cx="320" cy="296.4" r="3.70" fill="#fff" fill-opacity="0.85"/>
<circle cx="320" cy="296.4" r="3.10" fill="#d15750" stroke="#a53c36" stroke-width="0.85"/>
<circle cx="318.6" cy="298.6" r="3.70" fill="#fff" fill-opacity="0.85"/>
<circle cx="318.6" cy="298.6" r="3.10" fill="#db6c5b" stroke="#b24f40" stroke-width="0.85"/>
<circle cx="328.6" cy="299" r="3.70" fill="#fff" fill-opacity="0.85"/>
<circle cx="328.6" cy="299" r="3.10" fill="#e07a65" stroke="#b95c4a" stroke-width="0.85"/>
<circle cx="324.4" cy="311.4" r="3.70" fill="#fff" fill-opacity="0.85"/>
<circle cx="324.4" cy="311.4" r="3.10" fill="#e07a65" stroke="#b95c4a" stroke-width="0.85"/>
<circle cx="322.4" cy="336" r="3.70" fill="#fff" fill-opacity="0.85"/>
<circle cx="322.4" cy="336" r="3.10" fill="#e07a65" stroke="#b95c4a" stroke-width="0.85"/>
<circle cx="343.3" cy="294.4" r="3.70" fill="#fff" fill-opacity="0.85"/>
<circle cx="343.3" cy="294.4" r="3.10" fill="#f0a083" stroke="#d08468" stroke-width="0.85"/>
<circle cx="341.2" cy="302.2" r="3.70" fill="#fff" fill-opacity="0.85"/>
<circle cx="341.2" cy="302.2" r="3.10" fill="#ed9a7e" stroke="#cc7d63" stroke-width="0.85"/>
<circle cx="357.5" cy="289" r="3.70" fill="#fff" fill-opacity="0.85"/>
<circle cx="357.5" cy="289" r="3.10" fill="#f8bca1" stroke="#dea388" stroke-width="0.85"/>
<circle cx="353.8" cy="305.1" r="3.70" fill="#fff" fill-opacity="0.85"/>
<circle cx="353.8" cy="305.1" r="3.10" fill="#f9c6ad" stroke="#e1ae95" stroke-width="0.85"/>
<circle cx="367" cy="305" r="3.70" fill="#fff" fill-opacity="0.85"/>
<circle cx="367" cy="305" r="3.10" fill="#fddfcd" stroke="#ebcbb9" stroke-width="0.85"/>
<circle cx="386.5" cy="311.4" r="3.70" fill="#fff" fill-opacity="0.85"/>
<circle cx="386.5" cy="311.4" r="3.10" fill="#e0ecf4" stroke="#cddae2" stroke-width="0.85"/>
<circle cx="399.1" cy="304" r="3.70" fill="#fff" fill-opacity="0.85"/>
<circle cx="399.1" cy="304" r="3.10" fill="#d6e8f2" stroke="#c2d4de" stroke-width="0.85"/>
<circle cx="469.6" cy="212.5" r="3.70" fill="#fff" fill-opacity="0.85"/>
<circle cx="469.6" cy="212.5" r="3.10" fill="#4690c4" stroke="#2e6d99" stroke-width="0.85"/>
<circle cx="502.3" cy="216.2" r="3.70" fill="#fff" fill-opacity="0.85"/>
<circle cx="502.3" cy="216.2" r="3.10" fill="#2666a9" stroke="#15477a" stroke-width="0.85"/>
<circle cx="466.3" cy="227.6" r="3.70" fill="#fff" fill-opacity="0.85"/>
<circle cx="466.3" cy="227.6" r="3.10" fill="#4690c4" stroke="#2e6d99" stroke-width="0.85"/>
<circle cx="475.3" cy="228" r="3.70" fill="#fff" fill-opacity="0.85"/>
<circle cx="475.3" cy="228" r="3.10" fill="#377fbc" stroke="#225d8f" stroke-width="0.85"/>
<circle cx="477.9" cy="232.5" r="3.70" fill="#fff" fill-opacity="0.85"/>
<circle cx="477.9" cy="232.5" r="3.10" fill="#377fbc" stroke="#225d8f" stroke-width="0.85"/>
<circle cx="490.5" cy="230.5" r="3.70" fill="#fff" fill-opacity="0.85"/>
<circle cx="490.5" cy="230.5" r="3.10" fill="#2d71b6" stroke="#1a5088" stroke-width="0.85"/>
<circle cx="485.9" cy="245.7" r="3.70" fill="#fff" fill-opacity="0.85"/>
<circle cx="485.9" cy="245.7" r="3.10" fill="#347aba" stroke="#1f588d" stroke-width="0.85"/>
<circle cx="505.8" cy="248.8" r="3.70" fill="#fff" fill-opacity="0.85"/>
<circle cx="505.8" cy="248.8" r="3.10" fill="#1c5795" stroke="#0e3966" stroke-width="0.85"/>
<circle cx="495" cy="257.9" r="3.70" fill="#fff" fill-opacity="0.85"/>
<circle cx="495" cy="257.9" r="3.10" fill="#2666a9" stroke="#15477a" stroke-width="0.85"/>
<circle cx="419.4" cy="249.1" r="3.70" fill="#fff" fill-opacity="0.85"/>
<circle cx="419.4" cy="249.1" r="3.10" fill="#a7d0e5" stroke="#8eb5ca" stroke-width="0.85"/>
<circle cx="421.3" cy="259.2" r="3.70" fill="#fff" fill-opacity="0.85"/>
<circle cx="421.3" cy="259.2" r="3.10" fill="#9bcbe2" stroke="#81aec5" stroke-width="0.85"/>
<circle cx="404.4" cy="265" r="3.70" fill="#fff" fill-opacity="0.85"/>
<circle cx="404.4" cy="265" r="3.10" fill="#e7f0f5" stroke="#d6dfe5" stroke-width="0.85"/>
<circle cx="428.6" cy="271.4" r="3.70" fill="#fff" fill-opacity="0.85"/>
<circle cx="428.6" cy="271.4" r="3.10" fill="#75b4d6" stroke="#5b93b2" stroke-width="0.85"/>
<circle cx="445.2" cy="270.5" r="3.70" fill="#fff" fill-opacity="0.85"/>
<circle cx="445.2" cy="270.5" r="3.10" fill="#5fa6cf" stroke="#4584a8" stroke-width="0.85"/>
<circle cx="436.7" cy="277.8" r="3.70" fill="#fff" fill-opacity="0.85"/>
<circle cx="436.7" cy="277.8" r="3.10" fill="#8cc2de" stroke="#71a3be" stroke-width="0.85"/>
<circle cx="432.8" cy="280.6" r="3.70" fill="#fff" fill-opacity="0.85"/>
<circle cx="432.8" cy="280.6" r="3.10" fill="#9bcbe2" stroke="#81aec5" stroke-width="0.85"/>
<circle cx="452.9" cy="278.7" r="3.70" fill="#fff" fill-opacity="0.85"/>
<circle cx="452.9" cy="278.7" r="3.10" fill="#509cca" stroke="#377aa2" stroke-width="0.85"/>
<circle cx="405.7" cy="281.2" r="3.70" fill="#fff" fill-opacity="0.85"/>
<circle cx="405.7" cy="281.2" r="3.10" fill="#d6e8f2" stroke="#c2d4de" stroke-width="0.85"/>
<circle cx="413.85" cy="286.6" r="3.70" fill="#fff" fill-opacity="0.85"/>
<circle cx="413.85" cy="286.6" r="3.10" fill="#a7d0e5" stroke="#8eb5ca" stroke-width="0.85"/>
<circle cx="455.3" cy="288.6" r="3.70" fill="#fff" fill-opacity="0.85"/>
<circle cx="455.3" cy="288.6" r="3.10" fill="#4994c6" stroke="#31719c" stroke-width="0.85"/>
<circle cx="460.4" cy="286.6" r="3.70" fill="#fff" fill-opacity="0.85"/>
<circle cx="460.4" cy="286.6" r="3.10" fill="#3e86c1" stroke="#286495" stroke-width="0.85"/>
<circle cx="409.6" cy="319.8" r="3.70" fill="#fff" fill-opacity="0.85"/>
<circle cx="409.6" cy="319.8" r="3.10" fill="#b9d9ea" stroke="#a1c1d1" stroke-width="0.85"/>
<circle cx="440.3" cy="355.8" r="3.70" fill="#fff" fill-opacity="0.85"/>
<circle cx="440.3" cy="355.8" r="3.10" fill="#5fa6cf" stroke="#4584a8" stroke-width="0.85"/>
<polygon points="298.0,291.1 301.5,290.3 304.9,289.6 308.4,288.8 311.9,288.0 315.3,287.2 318.8,286.4 322.2,285.5 325.7,284.7 329.2,283.9 332.6,283.0 336.1,282.1 339.6,281.2 343.0,280.3 346.5,279.4 349.9,278.4 353.4,277.5 356.9,276.5 360.3,275.6 363.8,274.6 367.3,273.7 370.7,272.7 374.2,271.8 377.7,270.9 381.1,270.0 384.6,269.1 388.0,268.2 391.5,267.3 395.0,266.4 398.4,265.5 401.9,264.5 405.4,263.6 408.8,262.7 412.3,261.8 415.8,260.9 419.2,260.0 422.7,259.1 426.1,258.1 429.6,257.2 433.1,256.2 436.5,255.2 440.0,254.2 443.5,253.1 446.9,252.1 450.4,251.0 453.9,249.9 457.3,248.9 460.8,247.8 464.2,246.6 467.7,245.5 471.2,244.4 474.6,243.2 478.1,242.0 481.6,240.7 485.0,239.4 488.5,238.0 491.9,236.6 495.4,235.1 498.9,233.7 502.3,232.2 505.8,230.7 505.8,260.7 502.3,261.0 498.9,261.3 495.4,261.6 491.9,262.0 488.5,262.4 485.0,262.8 481.6,263.3 478.1,263.8 474.6,264.3 471.2,265.0 467.7,265.6 464.2,266.3 460.8,267.0 457.3,267.7 453.9,268.4 450.4,269.1 446.9,269.9 443.5,270.6 440.0,271.4 436.5,272.2 433.1,273.0 429.6,273.8 426.1,274.6 422.7,275.5 419.2,276.3 415.8,277.2 412.3,278.1 408.8,279.0 405.4,279.9 401.9,280.8 398.4,281.6 395.0,282.5 391.5,283.4 388.0,284.3 384.6,285.2 381.1,286.1 377.7,287.0 374.2,287.8 370.7,288.7 367.3,289.6 363.8,290.4 360.3,291.3 356.9,292.1 353.4,293.0 349.9,293.8 346.5,294.7 343.0,295.5 339.6,296.4 336.1,297.3 332.6,298.2 329.2,299.2 325.7,300.1 322.2,301.1 318.8,302.1 315.3,303.0 311.9,304.0 308.4,305.0 304.9,306.0 301.5,307.1 298.0,308.1" fill="#ff2020" fill-opacity="0.07" stroke="#ff2020" stroke-opacity="0.04" stroke-width="0.6"/>
<mask id="m828" maskUnits="userSpaceOnUse" x="0" y="0" width="575" height="578"><rect width="575" height="578" fill="#fff"/><circle cx="302" cy="229.6" r="3.55" fill="#000"/><circle cx="334.6" cy="257" r="3.55" fill="#000"/><circle cx="349.6" cy="256.5" r="3.55" fill="#000"/><circle cx="345.1" cy="262.3" r="3.55" fill="#000"/><circle cx="315.7" cy="272.6" r="3.55" fill="#000"/><circle cx="329.6" cy="277" r="3.55" fill="#000"/><circle cx="299.4" cy="270.6" r="3.55" fill="#000"/><circle cx="301.2" cy="279.6" r="3.55" fill="#000"/><circle cx="298" cy="283.6" r="3.55" fill="#000"/><circle cx="343" cy="282" r="3.55" fill="#000"/><circle cx="303" cy="287" r="3.55" fill="#000"/><circle cx="304.6" cy="294" r="3.55" fill="#000"/><circle cx="308" cy="295.6" r="3.55" fill="#000"/><circle cx="304" cy="301" r="3.55" fill="#000"/><circle cx="300" cy="310" r="3.55" fill="#000"/><circle cx="305.6" cy="309" r="3.55" fill="#000"/><circle cx="299.4" cy="318.6" r="3.55" fill="#000"/><circle cx="309.6" cy="317" r="3.55" fill="#000"/><circle cx="315" cy="322" r="3.55" fill="#000"/><circle cx="312" cy="327" r="3.55" fill="#000"/><circle cx="320" cy="296.4" r="3.55" fill="#000"/><circle cx="318.6" cy="298.6" r="3.55" fill="#000"/><circle cx="328.6" cy="299" r="3.55" fill="#000"/><circle cx="324.4" cy="311.4" r="3.55" fill="#000"/><circle cx="322.4" cy="336" r="3.55" fill="#000"/><circle cx="343.3" cy="294.4" r="3.55" fill="#000"/><circle cx="341.2" cy="302.2" r="3.55" fill="#000"/><circle cx="357.5" cy="289" r="3.55" fill="#000"/><circle cx="469.6" cy="212.5" r="3.55" fill="#000"/><circle cx="502.3" cy="216.2" r="3.55" fill="#000"/><circle cx="466.3" cy="227.6" r="3.55" fill="#000"/><circle cx="475.3" cy="228" r="3.55" fill="#000"/><circle cx="477.9" cy="232.5" r="3.55" fill="#000"/><circle cx="490.5" cy="230.5" r="3.55" fill="#000"/><circle cx="485.9" cy="245.7" r="3.55" fill="#000"/><circle cx="505.8" cy="248.8" r="3.55" fill="#000"/><circle cx="495" cy="257.9" r="3.55" fill="#000"/><circle cx="419.4" cy="249.1" r="3.55" fill="#000"/><circle cx="421.3" cy="259.2" r="3.55" fill="#000"/><circle cx="428.6" cy="271.4" r="3.55" fill="#000"/><circle cx="445.2" cy="270.5" r="3.55" fill="#000"/><circle cx="436.7" cy="277.8" r="3.55" fill="#000"/><circle cx="432.8" cy="280.6" r="3.55" fill="#000"/><circle cx="452.9" cy="278.7" r="3.55" fill="#000"/><circle cx="413.85" cy="286.6" r="3.55" fill="#000"/><circle cx="455.3" cy="288.6" r="3.55" fill="#000"/><circle cx="460.4" cy="286.6" r="3.55" fill="#000"/><circle cx="440.3" cy="355.8" r="3.55" fill="#000"/></mask>
<line x1="298" y1="299.6" x2="505.8" y2="245.7" stroke="#fff" stroke-width="3.3" stroke-opacity="0.9" mask="url(#m828)"/>
<line x1="298" y1="299.6" x2="505.8" y2="245.7" stroke="#f43333" stroke-width="1.25" stroke-opacity="0.92"/>
<rect x="287.7" y="204.5" width="228.90" height="158.60" fill="none" stroke="#858585" stroke-width="1"/>
<line x1="318.40" y1="363.1" x2="318.40" y2="365.1" stroke="#858585" stroke-width="0.8"/>
<g transform="translate(318.40,373.30) scale(0.945,1)"><text x="0" y="0" font-size="8.6" text-anchor="middle" fill="#111" stroke="#111" stroke-width="0.3">320</text></g>
<line x1="366.92" y1="363.1" x2="366.92" y2="365.1" stroke="#858585" stroke-width="0.8"/>
<g transform="translate(366.92,373.30) scale(0.945,1)"><text x="0" y="0" font-size="8.6" text-anchor="middle" fill="#111" stroke="#111" stroke-width="0.3">340</text></g>
<line x1="415.45" y1="363.1" x2="415.45" y2="365.1" stroke="#858585" stroke-width="0.8"/>
<g transform="translate(415.45,373.30) scale(0.945,1)"><text x="0" y="0" font-size="8.6" text-anchor="middle" fill="#111" stroke="#111" stroke-width="0.3">360</text></g>
<line x1="463.97" y1="363.1" x2="463.97" y2="365.1" stroke="#858585" stroke-width="0.8"/>
<g transform="translate(463.97,373.30) scale(0.945,1)"><text x="0" y="0" font-size="8.6" text-anchor="middle" fill="#111" stroke="#111" stroke-width="0.3">380</text></g>
<line x1="512.50" y1="363.1" x2="512.50" y2="365.1" stroke="#858585" stroke-width="0.8"/>
<g transform="translate(512.50,373.30) scale(0.945,1)"><text x="0" y="0" font-size="8.6" text-anchor="middle" fill="#111" stroke="#111" stroke-width="0.3">400</text></g>
<line x1="285.7" y1="226.80" x2="287.7" y2="226.80" stroke="#858585" stroke-width="0.8"/>
<g transform="translate(285.10,229.80) scale(0.94,1)"><text x="0" y="0" font-size="8.6" text-anchor="end" fill="#111" stroke="#111" stroke-width="0.3">48</text></g>
<line x1="285.7" y1="257.58" x2="287.7" y2="257.58" stroke="#858585" stroke-width="0.8"/>
<g transform="translate(285.10,260.58) scale(0.94,1)"><text x="0" y="0" font-size="8.6" text-anchor="end" fill="#111" stroke="#111" stroke-width="0.3">46</text></g>
<line x1="285.7" y1="288.36" x2="287.7" y2="288.36" stroke="#858585" stroke-width="0.8"/>
<g transform="translate(285.10,291.36) scale(0.94,1)"><text x="0" y="0" font-size="8.6" text-anchor="end" fill="#111" stroke="#111" stroke-width="0.3">44</text></g>
<line x1="285.7" y1="319.14" x2="287.7" y2="319.14" stroke="#858585" stroke-width="0.8"/>
<g transform="translate(285.10,322.14) scale(0.94,1)"><text x="0" y="0" font-size="8.6" text-anchor="end" fill="#111" stroke="#111" stroke-width="0.3">42</text></g>
<line x1="285.7" y1="349.92" x2="287.7" y2="349.92" stroke="#858585" stroke-width="0.8"/>
<g transform="translate(285.10,352.92) scale(0.94,1)"><text x="0" y="0" font-size="8.6" text-anchor="end" fill="#111" stroke="#111" stroke-width="0.3">40</text></g>
<g transform="translate(402.20,382.20) scale(0.96,1)"><text x="0" y="0" font-size="8.6" text-anchor="middle" fill="#111" stroke="#111" stroke-width="0.3">CO<tspan font-size="7.2" dy="2.1">2</tspan><tspan dy="-2.1"> (ppm)</tspan></text></g>
<g transform="translate(273.40,283.70) rotate(-90) scale(0.957,1)"><text x="0" y="0" font-size="8.6" text-anchor="middle" fill="#111" stroke="#111" stroke-width="0.3">Heatwave Days (days/year)</text></g>
<g transform="translate(287.90,202.50) scale(1.055,1)"><text x="0" y="0" font-size="9.5" text-anchor="start" fill="#111" stroke="#111" stroke-width="0.3">(e) Heatwave Days Versus CO<tspan font-size="7.2" dy="2.1">2</tspan><tspan dy="-2.1"> Concentrations</tspan></text></g>
<rect x="291.4" y="208.0" width="90.0" height="12.2" rx="1.6" fill="#fff" fill-opacity="0.85" stroke="#d6d6d6" stroke-width="0.8"/>
<line x1="294.2" y1="214.10" x2="309.0" y2="214.10" stroke="#f03535" stroke-width="1.0" stroke-opacity="0.9"/>
<g transform="translate(314.60,216.70) scale(0.952,1)"><text x="0" y="0" font-size="7.6" text-anchor="start" fill="#222" stroke="#222" stroke-width="0.1">Slope = 0.041 ± 0.008</text></g>
<polygon points="298.0,476.9 301.5,476.5 304.9,476.0 308.4,475.6 311.9,475.1 315.3,474.6 318.8,474.1 322.2,473.6 325.7,473.0 329.2,472.4 332.6,471.8 336.1,471.1 339.6,470.4 343.0,469.7 346.5,468.9 349.9,468.2 353.4,467.4 356.9,466.7 360.3,465.9 363.8,465.1 367.3,464.4 370.7,463.6 374.2,462.8 377.7,462.1 381.1,461.3 384.6,460.5 388.0,459.7 391.5,458.9 395.0,458.2 398.4,457.4 401.9,456.6 405.4,455.7 408.8,454.9 412.3,454.1 415.8,453.3 419.2,452.5 422.7,451.7 426.1,450.9 429.6,450.0 433.1,449.2 436.5,448.4 440.0,447.5 443.5,446.7 446.9,445.8 450.4,444.9 453.9,444.0 457.3,443.2 460.8,442.2 464.2,441.3 467.7,440.4 471.2,439.5 474.6,438.5 478.1,437.4 481.6,436.3 485.0,435.2 488.5,434.1 491.9,432.9 495.4,431.7 498.9,430.4 502.3,429.2 505.8,427.9 505.8,456.9 502.3,457.1 498.9,457.3 495.4,457.5 491.9,457.8 488.5,458.1 485.0,458.4 481.6,458.7 478.1,459.1 474.6,459.5 471.2,460.0 467.7,460.5 464.2,461.1 460.8,461.6 457.3,462.2 453.9,462.8 450.4,463.3 446.9,463.9 443.5,464.5 440.0,465.2 436.5,465.8 433.1,466.4 429.6,467.0 426.1,467.7 422.7,468.3 419.2,469.0 415.8,469.6 412.3,470.3 408.8,470.9 405.4,471.6 401.9,472.2 398.4,472.9 395.0,473.6 391.5,474.3 388.0,474.9 384.6,475.6 381.1,476.3 377.7,477.0 374.2,477.7 370.7,478.4 367.3,479.1 363.8,479.8 360.3,480.5 356.9,481.2 353.4,481.9 349.9,482.6 346.5,483.3 343.0,484.1 339.6,484.8 336.1,485.6 332.6,486.4 329.2,487.2 325.7,488.1 322.2,489.0 318.8,489.9 315.3,490.8 311.9,491.8 308.4,492.8 304.9,493.8 301.5,494.9 298.0,495.9" fill="#ff2020" fill-opacity="0.075"/>
<circle cx="298.6" cy="431.4" r="3.70" fill="#fff" fill-opacity="0.85"/>
<circle cx="298.6" cy="431.4" r="3.10" fill="#860c2a" stroke="#570318" stroke-width="0.85"/>
<circle cx="375" cy="413" r="3.70" fill="#fff" fill-opacity="0.85"/>
<circle cx="375" cy="413" r="3.10" fill="#fbebe2" stroke="#ebdbd1" stroke-width="0.85"/>
<circle cx="365.7" cy="432" r="3.70" fill="#fff" fill-opacity="0.85"/>
<circle cx="365.7" cy="432" r="3.10" fill="#fbd5c0" stroke="#e7bfaa" stroke-width="0.85"/>
<circle cx="362.6" cy="441.2" r="3.70" fill="#fff" fill-opacity="0.85"/>
<circle cx="362.6" cy="441.2" r="3.10" fill="#f9c6ad" stroke="#e1ae95" stroke-width="0.85"/>
<circle cx="315.6" cy="444.6" r="3.70" fill="#fff" fill-opacity="0.85"/>
<circle cx="315.6" cy="444.6" r="3.10" fill="#d15750" stroke="#a53c36" stroke-width="0.85"/>
<circle cx="320" cy="451" r="3.70" fill="#fff" fill-opacity="0.85"/>
<circle cx="320" cy="451" r="3.10" fill="#d55f53" stroke="#a94339" stroke-width="0.85"/>
<circle cx="349.6" cy="451.6" r="3.70" fill="#fff" fill-opacity="0.85"/>
<circle cx="349.6" cy="451.6" r="3.10" fill="#f5ad8e" stroke="#d89273" stroke-width="0.85"/>
<circle cx="302" cy="456.6" r="3.70" fill="#fff" fill-opacity="0.85"/>
<circle cx="302" cy="456.6" r="3.10" fill="#a81b32" stroke="#760c1d" stroke-width="0.85"/>
<circle cx="334.6" cy="460.4" r="3.70" fill="#fff" fill-opacity="0.85"/>
<circle cx="334.6" cy="460.4" r="3.10" fill="#e88d75" stroke="#c46f59" stroke-width="0.85"/>
<circle cx="341.3" cy="463.3" r="3.70" fill="#fff" fill-opacity="0.85"/>
<circle cx="341.3" cy="463.3" r="3.10" fill="#f0a083" stroke="#d08468" stroke-width="0.85"/>
<circle cx="345.1" cy="465.7" r="3.70" fill="#fff" fill-opacity="0.85"/>
<circle cx="345.1" cy="465.7" r="3.10" fill="#f5ad8e" stroke="#d89273" stroke-width="0.85"/>
<circle cx="304.6" cy="468" r="3.70" fill="#fff" fill-opacity="0.85"/>
<circle cx="304.6" cy="468" r="3.10" fill="#bb2537" stroke="#891221" stroke-width="0.85"/>
<circle cx="300.6" cy="475" r="3.70" fill="#fff" fill-opacity="0.85"/>
<circle cx="300.6" cy="475" r="3.10" fill="#94122e" stroke="#63071b" stroke-width="0.85"/>
<circle cx="308" cy="477" r="3.70" fill="#fff" fill-opacity="0.85"/>
<circle cx="308" cy="477" r="3.10" fill="#c1333f" stroke="#911d27" stroke-width="0.85"/>
<circle cx="311.4" cy="476" r="3.70" fill="#fff" fill-opacity="0.85"/>
<circle cx="311.4" cy="476" r="3.10" fill="#c84246" stroke="#992a2d" stroke-width="0.85"/>
<circle cx="303" cy="481" r="3.70" fill="#fff" fill-opacity="0.85"/>
<circle cx="303" cy="481" r="3.10" fill="#ae1e34" stroke="#7c0e1f" stroke-width="0.85"/>
<circle cx="298" cy="486.4" r="3.70" fill="#fff" fill-opacity="0.85"/>
<circle cx="298" cy="486.4" r="3.10" fill="#860c2a" stroke="#570318" stroke-width="0.85"/>
<circle cx="303" cy="483.6" r="3.70" fill="#fff" fill-opacity="0.85"/>
<circle cx="303" cy="483.6" r="3.10" fill="#bb2537" stroke="#891221" stroke-width="0.85"/>
<circle cx="309" cy="492.4" r="3.70" fill="#fff" fill-opacity="0.85"/>
<circle cx="309" cy="492.4" r="3.10" fill="#cb4949" stroke="#9d3030" stroke-width="0.85"/>
<circle cx="312.6" cy="489.6" r="3.70" fill="#fff" fill-opacity="0.85"/>
<circle cx="312.6" cy="489.6" r="3.10" fill="#cb4949" stroke="#9d3030" stroke-width="0.85"/>
<circle cx="314.6" cy="495" r="3.70" fill="#fff" fill-opacity="0.85"/>
<circle cx="314.6" cy="495" r="3.10" fill="#d15750" stroke="#a53c36" stroke-width="0.85"/>
<circle cx="322" cy="492.4" r="3.70" fill="#fff" fill-opacity="0.85"/>
<circle cx="322" cy="492.4" r="3.10" fill="#db6c5b" stroke="#b24f40" stroke-width="0.85"/>
<circle cx="324" cy="494.4" r="3.70" fill="#fff" fill-opacity="0.85"/>
<circle cx="324" cy="494.4" r="3.10" fill="#e07a65" stroke="#b95c4a" stroke-width="0.85"/>
<circle cx="329" cy="485.6" r="3.70" fill="#fff" fill-opacity="0.85"/>
<circle cx="329" cy="485.6" r="3.10" fill="#e07a65" stroke="#b95c4a" stroke-width="0.85"/>
<circle cx="343" cy="486" r="3.70" fill="#fff" fill-opacity="0.85"/>
<circle cx="343" cy="486" r="3.10" fill="#ed9a7e" stroke="#cc7d63" stroke-width="0.85"/>
<circle cx="354" cy="478" r="3.70" fill="#fff" fill-opacity="0.85"/>
<circle cx="354" cy="478" r="3.10" fill="#f5ad8e" stroke="#d89273" stroke-width="0.85"/>
<circle cx="357.5" cy="481.5" r="3.70" fill="#fff" fill-opacity="0.85"/>
<circle cx="357.5" cy="481.5" r="3.10" fill="#f8bca1" stroke="#dea388" stroke-width="0.85"/>
<circle cx="367" cy="487" r="3.70" fill="#fff" fill-opacity="0.85"/>
<circle cx="367" cy="487" r="3.10" fill="#fbd5c0" stroke="#e7bfaa" stroke-width="0.85"/>
<circle cx="378.8" cy="489.6" r="3.70" fill="#fff" fill-opacity="0.85"/>
<circle cx="378.8" cy="489.6" r="3.10" fill="#f8f8f8" stroke="#ebebeb" stroke-width="0.85"/>
<circle cx="371" cy="505" r="3.70" fill="#fff" fill-opacity="0.85"/>
<circle cx="371" cy="505" r="3.10" fill="#fddfcd" stroke="#ebcbb9" stroke-width="0.85"/>
<circle cx="299.4" cy="510" r="3.70" fill="#fff" fill-opacity="0.85"/>
<circle cx="299.4" cy="510" r="3.10" fill="#860c2a" stroke="#570318" stroke-width="0.85"/>
<circle cx="318.4" cy="508.6" r="3.70" fill="#fff" fill-opacity="0.85"/>
<circle cx="318.4" cy="508.6" r="3.10" fill="#d55f53" stroke="#a94339" stroke-width="0.85"/>
<circle cx="343" cy="510.4" r="3.70" fill="#fff" fill-opacity="0.85"/>
<circle cx="343" cy="510.4" r="3.10" fill="#f0a083" stroke="#d08468" stroke-width="0.85"/>
<circle cx="305.6" cy="549.6" r="3.70" fill="#fff" fill-opacity="0.85"/>
<circle cx="305.6" cy="549.6" r="3.10" fill="#bb2537" stroke="#891221" stroke-width="0.85"/>
<circle cx="382.4" cy="452.4" r="3.70" fill="#fff" fill-opacity="0.85"/>
<circle cx="382.4" cy="452.4" r="3.10" fill="#eef3f6" stroke="#dfe4e7" stroke-width="0.85"/>
<circle cx="386.5" cy="475.6" r="3.70" fill="#fff" fill-opacity="0.85"/>
<circle cx="386.5" cy="475.6" r="3.10" fill="#ddebf3" stroke="#cad9e0" stroke-width="0.85"/>
<circle cx="393" cy="486.8" r="3.70" fill="#fff" fill-opacity="0.85"/>
<circle cx="393" cy="486.8" r="3.10" fill="#d6e8f2" stroke="#c2d4de" stroke-width="0.85"/>
<circle cx="399.1" cy="498.4" r="3.70" fill="#fff" fill-opacity="0.85"/>
<circle cx="399.1" cy="498.4" r="3.10" fill="#cae2ee" stroke="#b4cdd9" stroke-width="0.85"/>
<circle cx="396.5" cy="467.2" r="3.70" fill="#fff" fill-opacity="0.85"/>
<circle cx="396.5" cy="467.2" r="3.10" fill="#cae2ee" stroke="#b4cdd9" stroke-width="0.85"/>
<circle cx="403" cy="476.2" r="3.70" fill="#fff" fill-opacity="0.85"/>
<circle cx="403" cy="476.2" r="3.10" fill="#d6e8f2" stroke="#c2d4de" stroke-width="0.85"/>
<circle cx="404.4" cy="453.2" r="3.70" fill="#fff" fill-opacity="0.85"/>
<circle cx="404.4" cy="453.2" r="3.10" fill="#d6e8f2" stroke="#c2d4de" stroke-width="0.85"/>
<circle cx="414" cy="450.9" r="3.70" fill="#fff" fill-opacity="0.85"/>
<circle cx="414" cy="450.9" r="3.10" fill="#b9d9ea" stroke="#a1c1d1" stroke-width="0.85"/>
<circle cx="428.9" cy="424.5" r="3.70" fill="#fff" fill-opacity="0.85"/>
<circle cx="428.9" cy="424.5" r="3.10" fill="#a7d0e5" stroke="#8eb5ca" stroke-width="0.85"/>
<circle cx="486.1" cy="405.5" r="3.70" fill="#fff" fill-opacity="0.85"/>
<circle cx="486.1" cy="405.5" r="3.10" fill="#2d71b6" stroke="#1a5088" stroke-width="0.85"/>
<circle cx="460.6" cy="413.3" r="3.70" fill="#fff" fill-opacity="0.85"/>
<circle cx="460.6" cy="413.3" r="3.10" fill="#4690c4" stroke="#2e6d99" stroke-width="0.85"/>
<circle cx="469.6" cy="420" r="3.70" fill="#fff" fill-opacity="0.85"/>
<circle cx="469.6" cy="420" r="3.10" fill="#377fbc" stroke="#225d8f" stroke-width="0.85"/>
<circle cx="475.3" cy="426.1" r="3.70" fill="#fff" fill-opacity="0.85"/>
<circle cx="475.3" cy="426.1" r="3.10" fill="#377fbc" stroke="#225d8f" stroke-width="0.85"/>
<circle cx="490.5" cy="422.4" r="3.70" fill="#fff" fill-opacity="0.85"/>
<circle cx="490.5" cy="422.4" r="3.10" fill="#2666a9" stroke="#15477a" stroke-width="0.85"/>
<circle cx="466.5" cy="441.7" r="3.70" fill="#fff" fill-opacity="0.85"/>
<circle cx="466.5" cy="441.7" r="3.10" fill="#3e86c1" stroke="#286495" stroke-width="0.85"/>
<circle cx="478.3" cy="441.3" r="3.70" fill="#fff" fill-opacity="0.85"/>
<circle cx="478.3" cy="441.3" r="3.10" fill="#377fbc" stroke="#225d8f" stroke-width="0.85"/>
<circle cx="456" cy="447.2" r="3.70" fill="#fff" fill-opacity="0.85"/>
<circle cx="456" cy="447.2" r="3.10" fill="#4994c6" stroke="#31719c" stroke-width="0.85"/>
<circle cx="495" cy="446.2" r="3.70" fill="#fff" fill-opacity="0.85"/>
<circle cx="495" cy="446.2" r="3.10" fill="#2361a2" stroke="#134273" stroke-width="0.85"/>
<circle cx="502.3" cy="450.5" r="3.70" fill="#fff" fill-opacity="0.85"/>
<circle cx="502.3" cy="450.5" r="3.10" fill="#2361a2" stroke="#134273" stroke-width="0.85"/>
<circle cx="505.8" cy="456" r="3.70" fill="#fff" fill-opacity="0.85"/>
<circle cx="505.8" cy="456" r="3.10" fill="#1c5795" stroke="#0e3966" stroke-width="0.85"/>
<circle cx="445.8" cy="465.1" r="3.70" fill="#fff" fill-opacity="0.85"/>
<circle cx="445.8" cy="465.1" r="3.10" fill="#5fa6cf" stroke="#4584a8" stroke-width="0.85"/>
<circle cx="452.9" cy="468.4" r="3.70" fill="#fff" fill-opacity="0.85"/>
<circle cx="452.9" cy="468.4" r="3.10" fill="#509cca" stroke="#377aa2" stroke-width="0.85"/>
<circle cx="421.4" cy="474.8" r="3.70" fill="#fff" fill-opacity="0.85"/>
<circle cx="421.4" cy="474.8" r="3.10" fill="#a7d0e5" stroke="#8eb5ca" stroke-width="0.85"/>
<circle cx="419.2" cy="482.2" r="3.70" fill="#fff" fill-opacity="0.85"/>
<circle cx="419.2" cy="482.2" r="3.10" fill="#9bcbe2" stroke="#81aec5" stroke-width="0.85"/>
<circle cx="405.7" cy="486.2" r="3.70" fill="#fff" fill-opacity="0.85"/>
<circle cx="405.7" cy="486.2" r="3.10" fill="#cae2ee" stroke="#b4cdd9" stroke-width="0.85"/>
<circle cx="433" cy="483.3" r="3.70" fill="#fff" fill-opacity="0.85"/>
<circle cx="433" cy="483.3" r="3.10" fill="#5fa6cf" stroke="#4584a8" stroke-width="0.85"/>
<circle cx="436.6" cy="496.9" r="3.70" fill="#fff" fill-opacity="0.85"/>
<circle cx="436.6" cy="496.9" r="3.10" fill="#5fa6cf" stroke="#4584a8" stroke-width="0.85"/>
<circle cx="440.3" cy="497.5" r="3.70" fill="#fff" fill-opacity="0.85"/>
<circle cx="440.3" cy="497.5" r="3.10" fill="#5fa6cf" stroke="#4584a8" stroke-width="0.85"/>
<circle cx="409.6" cy="517.8" r="3.70" fill="#fff" fill-opacity="0.85"/>
<circle cx="409.6" cy="517.8" r="3.10" fill="#b9d9ea" stroke="#a1c1d1" stroke-width="0.85"/>
<polygon points="298.0,476.9 301.5,476.5 304.9,476.0 308.4,475.6 311.9,475.1 315.3,474.6 318.8,474.1 322.2,473.6 325.7,473.0 329.2,472.4 332.6,471.8 336.1,471.1 339.6,470.4 343.0,469.7 346.5,468.9 349.9,468.2 353.4,467.4 356.9,466.7 360.3,465.9 363.8,465.1 367.3,464.4 370.7,463.6 374.2,462.8 377.7,462.1 381.1,461.3 384.6,460.5 388.0,459.7 391.5,458.9 395.0,458.2 398.4,457.4 401.9,456.6 405.4,455.7 408.8,454.9 412.3,454.1 415.8,453.3 419.2,452.5 422.7,451.7 426.1,450.9 429.6,450.0 433.1,449.2 436.5,448.4 440.0,447.5 443.5,446.7 446.9,445.8 450.4,444.9 453.9,444.0 457.3,443.2 460.8,442.2 464.2,441.3 467.7,440.4 471.2,439.5 474.6,438.5 478.1,437.4 481.6,436.3 485.0,435.2 488.5,434.1 491.9,432.9 495.4,431.7 498.9,430.4 502.3,429.2 505.8,427.9 505.8,456.9 502.3,457.1 498.9,457.3 495.4,457.5 491.9,457.8 488.5,458.1 485.0,458.4 481.6,458.7 478.1,459.1 474.6,459.5 471.2,460.0 467.7,460.5 464.2,461.1 460.8,461.6 457.3,462.2 453.9,462.8 450.4,463.3 446.9,463.9 443.5,464.5 440.0,465.2 436.5,465.8 433.1,466.4 429.6,467.0 426.1,467.7 422.7,468.3 419.2,469.0 415.8,469.6 412.3,470.3 408.8,470.9 405.4,471.6 401.9,472.2 398.4,472.9 395.0,473.6 391.5,474.3 388.0,474.9 384.6,475.6 381.1,476.3 377.7,477.0 374.2,477.7 370.7,478.4 367.3,479.1 363.8,479.8 360.3,480.5 356.9,481.2 353.4,481.9 349.9,482.6 346.5,483.3 343.0,484.1 339.6,484.8 336.1,485.6 332.6,486.4 329.2,487.2 325.7,488.1 322.2,489.0 318.8,489.9 315.3,490.8 311.9,491.8 308.4,492.8 304.9,493.8 301.5,494.9 298.0,495.9" fill="#ff2020" fill-opacity="0.07" stroke="#ff2020" stroke-opacity="0.04" stroke-width="0.6"/>
<mask id="m986" maskUnits="userSpaceOnUse" x="0" y="0" width="575" height="578"><rect width="575" height="578" fill="#fff"/><circle cx="298.6" cy="431.4" r="3.55" fill="#000"/><circle cx="315.6" cy="444.6" r="3.55" fill="#000"/><circle cx="320" cy="451" r="3.55" fill="#000"/><circle cx="349.6" cy="451.6" r="3.55" fill="#000"/><circle cx="302" cy="456.6" r="3.55" fill="#000"/><circle cx="334.6" cy="460.4" r="3.55" fill="#000"/><circle cx="341.3" cy="463.3" r="3.55" fill="#000"/><circle cx="345.1" cy="465.7" r="3.55" fill="#000"/><circle cx="304.6" cy="468" r="3.55" fill="#000"/><circle cx="300.6" cy="475" r="3.55" fill="#000"/><circle cx="308" cy="477" r="3.55" fill="#000"/><circle cx="311.4" cy="476" r="3.55" fill="#000"/><circle cx="303" cy="481" r="3.55" fill="#000"/><circle cx="298" cy="486.4" r="3.55" fill="#000"/><circle cx="303" cy="483.6" r="3.55" fill="#000"/><circle cx="309" cy="492.4" r="3.55" fill="#000"/><circle cx="312.6" cy="489.6" r="3.55" fill="#000"/><circle cx="314.6" cy="495" r="3.55" fill="#000"/><circle cx="322" cy="492.4" r="3.55" fill="#000"/><circle cx="324" cy="494.4" r="3.55" fill="#000"/><circle cx="329" cy="485.6" r="3.55" fill="#000"/><circle cx="343" cy="486" r="3.55" fill="#000"/><circle cx="354" cy="478" r="3.55" fill="#000"/><circle cx="357.5" cy="481.5" r="3.55" fill="#000"/><circle cx="299.4" cy="510" r="3.55" fill="#000"/><circle cx="318.4" cy="508.6" r="3.55" fill="#000"/><circle cx="343" cy="510.4" r="3.55" fill="#000"/><circle cx="305.6" cy="549.6" r="3.55" fill="#000"/><circle cx="428.9" cy="424.5" r="3.55" fill="#000"/><circle cx="486.1" cy="405.5" r="3.55" fill="#000"/><circle cx="460.6" cy="413.3" r="3.55" fill="#000"/><circle cx="469.6" cy="420" r="3.55" fill="#000"/><circle cx="475.3" cy="426.1" r="3.55" fill="#000"/><circle cx="490.5" cy="422.4" r="3.55" fill="#000"/><circle cx="466.5" cy="441.7" r="3.55" fill="#000"/><circle cx="478.3" cy="441.3" r="3.55" fill="#000"/><circle cx="456" cy="447.2" r="3.55" fill="#000"/><circle cx="495" cy="446.2" r="3.55" fill="#000"/><circle cx="502.3" cy="450.5" r="3.55" fill="#000"/><circle cx="505.8" cy="456" r="3.55" fill="#000"/><circle cx="445.8" cy="465.1" r="3.55" fill="#000"/><circle cx="452.9" cy="468.4" r="3.55" fill="#000"/><circle cx="421.4" cy="474.8" r="3.55" fill="#000"/><circle cx="419.2" cy="482.2" r="3.55" fill="#000"/><circle cx="433" cy="483.3" r="3.55" fill="#000"/><circle cx="436.6" cy="496.9" r="3.55" fill="#000"/><circle cx="440.3" cy="497.5" r="3.55" fill="#000"/></mask>
<line x1="298" y1="486.4" x2="505.8" y2="442.4" stroke="#fff" stroke-width="3.3" stroke-opacity="0.9" mask="url(#m986)"/>
<line x1="298" y1="486.4" x2="505.8" y2="442.4" stroke="#f43333" stroke-width="1.25" stroke-opacity="0.92"/>
<rect x="287.7" y="398.5" width="228.90" height="158.70" fill="none" stroke="#858585" stroke-width="1"/>
<line x1="318.40" y1="557.2" x2="318.40" y2="559.2" stroke="#858585" stroke-width="0.8"/>
<g transform="translate(318.40,567.40) scale(0.945,1)"><text x="0" y="0" font-size="8.6" text-anchor="middle" fill="#111" stroke="#111" stroke-width="0.3">320</text></g>
<line x1="366.92" y1="557.2" x2="366.92" y2="559.2" stroke="#858585" stroke-width="0.8"/>
<g transform="translate(366.92,567.40) scale(0.945,1)"><text x="0" y="0" font-size="8.6" text-anchor="middle" fill="#111" stroke="#111" stroke-width="0.3">340</text></g>
<line x1="415.45" y1="557.2" x2="415.45" y2="559.2" stroke="#858585" stroke-width="0.8"/>
<g transform="translate(415.45,567.40) scale(0.945,1)"><text x="0" y="0" font-size="8.6" text-anchor="middle" fill="#111" stroke="#111" stroke-width="0.3">360</text></g>
<line x1="463.97" y1="557.2" x2="463.97" y2="559.2" stroke="#858585" stroke-width="0.8"/>
<g transform="translate(463.97,567.40) scale(0.945,1)"><text x="0" y="0" font-size="8.6" text-anchor="middle" fill="#111" stroke="#111" stroke-width="0.3">380</text></g>
<line x1="512.50" y1="557.2" x2="512.50" y2="559.2" stroke="#858585" stroke-width="0.8"/>
<g transform="translate(512.50,567.40) scale(0.945,1)"><text x="0" y="0" font-size="8.6" text-anchor="middle" fill="#111" stroke="#111" stroke-width="0.3">400</text></g>
<line x1="285.7" y1="410.60" x2="287.7" y2="410.60" stroke="#858585" stroke-width="0.8"/>
<g transform="translate(285.10,413.60) scale(0.94,1)"><text x="0" y="0" font-size="8.6" text-anchor="end" fill="#111" stroke="#111" stroke-width="0.3">11.0</text></g>
<line x1="285.7" y1="441.65" x2="287.7" y2="441.65" stroke="#858585" stroke-width="0.8"/>
<g transform="translate(285.10,444.65) scale(0.94,1)"><text x="0" y="0" font-size="8.6" text-anchor="end" fill="#111" stroke="#111" stroke-width="0.3">10.5</text></g>
<line x1="285.7" y1="472.70" x2="287.7" y2="472.70" stroke="#858585" stroke-width="0.8"/>
<g transform="translate(285.10,475.70) scale(0.94,1)"><text x="0" y="0" font-size="8.6" text-anchor="end" fill="#111" stroke="#111" stroke-width="0.3">10.0</text></g>
<line x1="285.7" y1="503.75" x2="287.7" y2="503.75" stroke="#858585" stroke-width="0.8"/>
<g transform="translate(285.10,506.75) scale(0.94,1)"><text x="0" y="0" font-size="8.6" text-anchor="end" fill="#111" stroke="#111" stroke-width="0.3">9.5</text></g>
<line x1="285.7" y1="534.80" x2="287.7" y2="534.80" stroke="#858585" stroke-width="0.8"/>
<g transform="translate(285.10,537.80) scale(0.94,1)"><text x="0" y="0" font-size="8.6" text-anchor="end" fill="#111" stroke="#111" stroke-width="0.3">9.0</text></g>
<g transform="translate(402.20,576.00) scale(0.96,1)"><text x="0" y="0" font-size="8.6" text-anchor="middle" fill="#111" stroke="#111" stroke-width="0.3">CO<tspan font-size="7.2" dy="2.1">2</tspan><tspan dy="-2.1"> (ppm)</tspan></text></g>
<g transform="translate(268.40,478.30) rotate(-90) scale(0.957,1)"><text x="0" y="0" font-size="8.6" text-anchor="middle" fill="#111" stroke="#111" stroke-width="0.3">Heatwave Mean Duration (days/event)</text></g>
<g transform="translate(287.90,396.50) scale(1.055,1)"><text x="0" y="0" font-size="9.5" text-anchor="start" fill="#111" stroke="#111" stroke-width="0.3">(f) Heatwave Mean Duration Versus CO<tspan font-size="7.2" dy="2.1">2</tspan><tspan dy="-2.1"> Concentrations</tspan></text></g>
<rect x="422.4" y="540.6" width="90.1" height="12.4" rx="1.6" fill="#fff" fill-opacity="0.85" stroke="#d6d6d6" stroke-width="0.8"/>
<line x1="425.2" y1="546.80" x2="440.0" y2="546.80" stroke="#f03535" stroke-width="1.0" stroke-opacity="0.9"/>
<g transform="translate(445.60,549.40) scale(0.952,1)"><text x="0" y="0" font-size="7.6" text-anchor="start" fill="#222" stroke="#222" stroke-width="0.1">Slope = 0.008 ± 0.002</text></g>
<defs><linearGradient id="cb" x1="0" y1="1" x2="0" y2="0">
<stop offset="0.000" stop-color="#67001f"/>
<stop offset="0.025" stop-color="#7a0622"/>
<stop offset="0.050" stop-color="#8c0c25"/>
<stop offset="0.075" stop-color="#9f1228"/>
<stop offset="0.100" stop-color="#b2182b"/>
<stop offset="0.125" stop-color="#bb2a34"/>
<stop offset="0.150" stop-color="#c43c3c"/>
<stop offset="0.175" stop-color="#cd4e44"/>
<stop offset="0.200" stop-color="#d6604d"/>
<stop offset="0.225" stop-color="#de715a"/>
<stop offset="0.250" stop-color="#e58268"/>
<stop offset="0.275" stop-color="#ec9475"/>
<stop offset="0.300" stop-color="#f4a582"/>
<stop offset="0.325" stop-color="#f6b293"/>
<stop offset="0.350" stop-color="#f8c0a4"/>
<stop offset="0.375" stop-color="#fbceb6"/>
<stop offset="0.400" stop-color="#fddbc7"/>
<stop offset="0.425" stop-color="#fce2d3"/>
<stop offset="0.450" stop-color="#fae9df"/>
<stop offset="0.475" stop-color="#f8f0eb"/>
<stop offset="0.500" stop-color="#f7f7f7"/>
<stop offset="0.525" stop-color="#eef2f5"/>
<stop offset="0.550" stop-color="#e4eef4"/>
<stop offset="0.575" stop-color="#daeaf2"/>
<stop offset="0.600" stop-color="#d1e5f0"/>
<stop offset="0.625" stop-color="#c1ddec"/>
<stop offset="0.650" stop-color="#b2d5e7"/>
<stop offset="0.675" stop-color="#a2cde2"/>
<stop offset="0.700" stop-color="#92c5de"/>
<stop offset="0.725" stop-color="#7eb8d7"/>
<stop offset="0.750" stop-color="#6aacd0"/>
<stop offset="0.775" stop-color="#57a0ca"/>
<stop offset="0.800" stop-color="#4393c3"/>
<stop offset="0.825" stop-color="#3a88bd"/>
<stop offset="0.850" stop-color="#327cb8"/>
<stop offset="0.875" stop-color="#2a71b2"/>
<stop offset="0.900" stop-color="#2166ac"/>
<stop offset="0.925" stop-color="#1a5899"/>
<stop offset="0.950" stop-color="#134b86"/>
<stop offset="0.975" stop-color="#0c3e74"/>
<stop offset="1.000" stop-color="#053061"/>
</linearGradient></defs>
<rect x="535.8" y="83.8" width="12.0" height="410.6" fill="url(#cb)" stroke="#3a3a3a" stroke-width="0.9"/>
<line x1="547.8" y1="494.40" x2="549.8" y2="494.40" stroke="#858585" stroke-width="0.8"/>
<g transform="translate(550.80,497.40) scale(0.92,1)"><text x="0" y="0" font-size="8.6" text-anchor="start" fill="#111" stroke="#111" stroke-width="0.3">1950</text></g>
<line x1="547.8" y1="435.74" x2="549.8" y2="435.74" stroke="#858585" stroke-width="0.8"/>
<g transform="translate(550.80,438.74) scale(0.92,1)"><text x="0" y="0" font-size="8.6" text-anchor="start" fill="#111" stroke="#111" stroke-width="0.3">1960</text></g>
<line x1="547.8" y1="377.09" x2="549.8" y2="377.09" stroke="#858585" stroke-width="0.8"/>
<g transform="translate(550.80,380.09) scale(0.92,1)"><text x="0" y="0" font-size="8.6" text-anchor="start" fill="#111" stroke="#111" stroke-width="0.3">1970</text></g>
<line x1="547.8" y1="318.43" x2="549.8" y2="318.43" stroke="#858585" stroke-width="0.8"/>
<g transform="translate(550.80,321.43) scale(0.92,1)"><text x="0" y="0" font-size="8.6" text-anchor="start" fill="#111" stroke="#111" stroke-width="0.3">1980</text></g>
<line x1="547.8" y1="259.77" x2="549.8" y2="259.77" stroke="#858585" stroke-width="0.8"/>
<g transform="translate(550.80,262.77) scale(0.92,1)"><text x="0" y="0" font-size="8.6" text-anchor="start" fill="#111" stroke="#111" stroke-width="0.3">1990</text></g>
<line x1="547.8" y1="201.11" x2="549.8" y2="201.11" stroke="#858585" stroke-width="0.8"/>
<g transform="translate(550.80,204.11) scale(0.92,1)"><text x="0" y="0" font-size="8.6" text-anchor="start" fill="#111" stroke="#111" stroke-width="0.3">2000</text></g>
<line x1="547.8" y1="142.46" x2="549.8" y2="142.46" stroke="#858585" stroke-width="0.8"/>
<g transform="translate(550.80,145.46) scale(0.92,1)"><text x="0" y="0" font-size="8.6" text-anchor="start" fill="#111" stroke="#111" stroke-width="0.3">2010</text></g>
<line x1="547.8" y1="83.80" x2="549.8" y2="83.80" stroke="#858585" stroke-width="0.8"/>
<g transform="translate(550.80,86.80) scale(0.92,1)"><text x="0" y="0" font-size="8.6" text-anchor="start" fill="#111" stroke="#111" stroke-width="0.3">2020</text></g>
<g transform="translate(572.50,289.10) rotate(-90) scale(0.92,1)"><text x="0" y="0" font-size="8.6" text-anchor="middle" fill="#111" stroke="#111" stroke-width="0.3">Year</text></g>
</svg></body></html>
